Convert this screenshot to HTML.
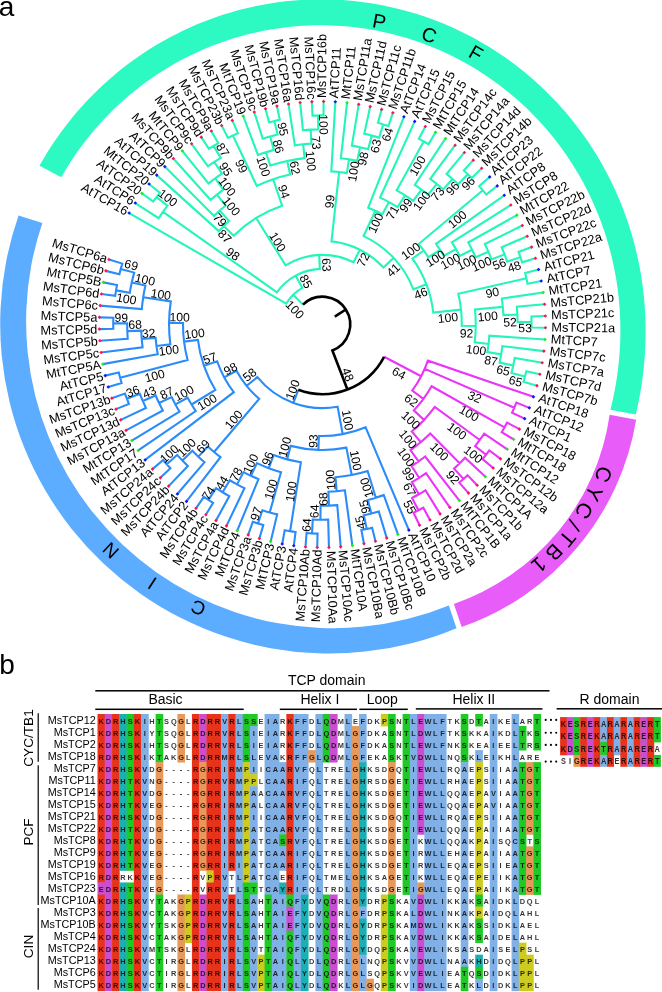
<!DOCTYPE html><html><head><meta charset="utf-8"><title>TCP phylogeny</title><style>html,body{margin:0;padding:0;background:#fff}svg{display:block}</style></head><body><svg width="662" height="992" viewBox="0 0 662 992" font-family="Liberation Sans, Arial, sans-serif">
<rect width="662" height="992" fill="#fff"/>
<path d="M39.48 165.76L42.29 160.82L45.19 155.93L48.17 151.08L51.24 146.29L54.39 141.56L57.62 136.88L60.93 132.25L64.33 127.68L67.8 123.18L71.35 118.73L74.98 114.34L78.68 110.02L82.46 105.77L86.31 101.58L90.24 97.45L94.23 93.4L98.3 89.42L102.44 85.51L106.65 81.67L110.92 77.9L115.26 74.21L119.66 70.6L124.13 67.07L128.66 63.61L133.24 60.23L137.89 56.94L142.6 53.73L147.36 50.6L152.18 47.55L157.05 44.6L161.97 41.72L166.94 38.94L171.96 36.24L177.03 33.63L182.15 31.11L187.31 28.69L192.51 26.35L197.75 24.11L203.03 21.96L208.35 19.91L213.7 17.95L219.09 16.08L224.51 14.31L229.96 12.64L235.44 11.07L240.95 9.59L246.48 8.21L252.04 6.93L257.62 5.75L263.22 4.67L268.83 3.68L274.47 2.8L280.11 2.02L285.78 1.34L291.45 0.76L297.13 0.28L302.82 -0.1L308.51 -0.37L314.21 -0.55L319.91 -0.62L325.61 -0.59L331.3 -0.46L337 -0.23L342.69 0.1L348.37 0.54L354.04 1.07L359.7 1.71L365.35 2.45L370.98 3.28L376.6 4.22L382.2 5.26L387.78 6.39L393.34 7.63L398.87 8.96L404.38 10.39L409.86 11.92L415.31 13.54L420.73 15.26L426.13 17.08L431.48 18.99L436.8 21L442.09 23.1L447.33 25.29L452.54 27.57L457.7 29.95L462.82 32.42L467.89 34.97L472.92 37.62L477.9 40.35L482.83 43.17L487.7 46.07L492.53 49.06L497.3 52.13L502.02 55.29L506.67 58.53L511.27 61.85L515.81 65.25L520.29 68.72L524.71 72.28L529.06 75.91L533.35 79.61L537.57 83.39L541.73 87.24L545.81 91.16L549.83 95.15L553.78 99.22L557.65 103.34L561.45 107.54L565.18 111.79L568.83 116.12L572.41 120.5L575.91 124.94L579.33 129.45L582.67 134.01L585.94 138.62L589.12 143.29L592.22 148.02L595.24 152.8L598.18 157.62L601.04 162.5L603.81 167.42L606.49 172.39L609.1 177.41L611.61 182.47L614.04 187.56L616.38 192.7L618.64 197.88L620.8 203.1L622.88 208.35L624.87 213.63L626.77 218.95L628.58 224.3L630.3 229.68L631.93 235.09L633.47 240.52L634.91 245.98L636.27 251.47L637.54 256.97L638.71 262.5L639.79 268.05L640.79 273.61L641.68 279.19L642.49 284.79L643.21 290.4L643.83 296.02L644.36 301.65L644.8 307.3L645.15 312.95L645.4 318.6L645.56 324.27L645.63 329.93L645.61 335.6L645.5 341.28L645.29 346.95L645 352.62L644.61 358.28L644.13 363.95L643.56 369.6L642.9 375.25L642.15 380.9L641.31 386.53L640.38 392.16L639.36 397.77L638.25 403.37L637.05 408.96L635.76 414.53L610.45 409.66L611.69 404.56L612.86 399.45L613.94 394.33L614.94 389.19L615.86 384.04L616.69 378.87L617.44 373.7L618.1 368.52L618.68 363.33L619.18 358.14L619.59 352.94L619.91 347.74L620.15 342.53L620.31 337.33L620.38 332.12L620.37 326.92L620.26 321.71L620.08 316.52L619.81 311.32L619.45 306.14L619.01 300.96L618.48 295.79L617.87 290.64L617.17 285.49L616.39 280.36L615.52 275.24L614.57 270.14L613.53 265.06L612.41 259.99L611.2 254.95L609.91 249.93L608.54 244.93L607.08 239.95L605.54 235L603.91 230.08L602.21 225.18L600.42 220.32L598.55 215.48L596.6 210.68L594.57 205.91L592.46 201.18L590.26 196.48L587.99 191.82L585.64 187.2L583.21 182.62L580.71 178.08L578.12 173.59L575.46 169.14L572.73 164.73L569.92 160.38L567.03 156.07L564.07 151.81L561.04 147.6L557.94 143.44L554.77 139.34L551.52 135.29L548.21 131.3L544.83 127.37L541.38 123.49L537.86 119.67L534.28 115.92L530.63 112.22L526.92 108.59L523.14 105.03L519.31 101.52L515.41 98.09L511.46 94.72L507.44 91.42L503.37 88.19L499.24 85.03L495.06 81.95L490.83 78.93L486.54 75.99L482.2 73.13L477.81 70.34L473.37 67.62L468.89 64.99L464.35 62.43L459.78 59.95L455.16 57.55L450.5 55.23L445.8 53L441.06 50.84L436.28 48.77L431.46 46.78L426.61 44.88L421.73 43.06L416.82 41.33L411.87 39.68L406.9 38.12L401.89 36.65L396.87 35.26L391.82 33.97L386.74 32.76L381.65 31.64L376.53 30.61L371.4 29.68L366.25 28.83L361.09 28.07L355.91 27.4L350.72 26.83L345.52 26.34L340.32 25.95L335.1 25.65L329.88 25.44L324.66 25.32L319.44 25.3L314.21 25.37L308.99 25.52L303.77 25.78L298.56 26.12L293.35 26.55L288.15 27.08L282.96 27.7L277.78 28.41L272.61 29.21L267.46 30.1L262.33 31.09L257.21 32.16L252.11 33.32L247.03 34.58L241.98 35.92L236.95 37.35L231.94 38.87L226.96 40.48L222.02 42.18L217.1 43.96L212.21 45.83L207.36 47.79L202.54 49.83L197.76 51.95L193.02 54.16L188.31 56.46L183.65 58.83L179.03 61.29L174.45 63.83L169.92 66.44L165.44 69.14L161 71.92L156.61 74.77L152.28 77.7L147.99 80.71L143.76 83.79L139.59 86.94L135.47 90.17L131.4 93.47L127.4 96.84L123.45 100.28L119.57 103.78L115.75 107.36L111.99 111L108.29 114.71L104.67 118.48L101.1 122.31L97.61 126.21L94.18 130.16L90.82 134.18L87.54 138.25L84.32 142.38L81.18 146.56L78.11 150.8L75.11 155.09L72.19 159.44L69.35 163.83L66.58 168.27L63.89 172.76L61.28 177.29Z" fill="#2dfac3"/>
<path d="M636.15 419.64A265.5 265.5 0 0 1 461.7 627.07L453.89 603.99A235.6 235.6 0 0 0 609.65 414.68Z" fill="#e85cfa"/>
<path d="M456.51 628.17A329.6 329.6 0 0 1 18.57 215.39L42.34 222.91A306.8 306.8 0 0 0 448.81 605.46Z" fill="#5cacff"/>
<text transform="translate(379.4 21.2) rotate(10.64)" font-size="20" text-anchor="middle" y="7.16">P</text>
<text transform="translate(429.2 34.8) rotate(20.24)" font-size="20" text-anchor="middle" y="7.16">C</text>
<text transform="translate(476 53) rotate(29.5)" font-size="20" text-anchor="middle" y="7.16">F</text>
<text transform="translate(198.3 607.9) rotate(203.65)" font-size="19" text-anchor="middle" y="6.8">C</text>
<text transform="translate(152.1 583.4) rotate(213.34)" font-size="19" text-anchor="middle" y="6.8">I</text>
<text transform="translate(110.6 550.6) rotate(223.13)" font-size="19" text-anchor="middle" y="6.8">N</text>
<text transform="translate(603.7 474.4) rotate(112.64)" font-size="21" text-anchor="middle" y="7.52">C</text>
<text transform="translate(594.3 493.5) rotate(117.57)" font-size="21" text-anchor="middle" y="7.52">Y</text>
<text transform="translate(584.3 510.7) rotate(122.18)" font-size="21" text-anchor="middle" y="7.52">C</text>
<text transform="translate(574.4 525.2) rotate(126.25)" font-size="21" text-anchor="middle" y="7.52">/</text>
<text transform="translate(567.5 538.8) rotate(129.7)" font-size="21" text-anchor="middle" y="7.52">T</text>
<text transform="translate(554.4 552.4) rotate(134.03)" font-size="21" text-anchor="middle" y="7.52">B</text>
<text transform="translate(539 565.1) rotate(138.61)" font-size="21" text-anchor="middle" y="7.52">1</text>
<path d="M293.21 294.65L302.96 304.62M129.13 213.05L286.23 303.64A41.75 41.75 0 0 1 293.21 294.65M295.66 275.64L302.35 287.88A41.75 41.75 0 0 0 293.21 294.65M162.99 211.84L276.91 292.35A55.7 55.7 0 0 1 295.66 275.64M135.27 203.03L158.67 218.22A195.2 195.2 0 0 1 162.99 211.84M156.5 197.14L167.56 205.64A195.2 195.2 0 0 0 162.99 211.84M141.92 193.35L153.2 201.55A209.15 209.15 0 0 1 156.5 197.14M149.07 184.04L159.91 192.82A209.15 209.15 0 0 0 156.5 197.14M319.19 254.92L319.84 268.86A55.7 55.7 0 0 0 295.66 275.64M256.18 217.95L285.63 265.35A69.65 69.65 0 0 1 319.19 254.92M223.84 225.92L233.71 235.78A125.45 125.45 0 0 1 256.18 217.95M156.7 175.11L218.87 231.15A139.4 139.4 0 0 1 223.84 225.92M219.74 210.58L229.08 220.94A139.4 139.4 0 0 0 223.84 225.92M164.8 166.59L214.07 215.96A153.35 153.35 0 0 1 219.74 210.58M216.89 194.67L225.69 205.49A153.35 153.35 0 0 0 219.74 210.58M173.33 158.52L210.61 200.03A167.3 167.3 0 0 1 216.89 194.67M215.17 178.37L223.42 189.62A167.3 167.3 0 0 0 216.89 194.67M182.27 150.9L208.55 183.47A181.25 181.25 0 0 1 215.17 178.37M214.29 161.97L222.02 173.59A181.25 181.25 0 0 0 215.17 178.37M191.6 143.77L207.96 166.37A195.2 195.2 0 0 1 214.29 161.97M213.53 145.92L220.79 157.83A195.2 195.2 0 0 0 214.29 161.97M201.29 137.13L208.87 148.85A209.15 209.15 0 0 1 213.53 145.92M211.32 131.02L218.27 143.12A209.15 209.15 0 0 0 213.53 145.92M273.15 179.28L282.11 205.7A125.45 125.45 0 0 0 256.18 217.95M232.9 135.46L256.78 185.9A153.35 153.35 0 0 1 273.15 179.28M221.66 125.44L227.96 137.89A209.15 209.15 0 0 1 232.9 135.46M232.28 120.41L237.91 133.17A209.15 209.15 0 0 0 232.9 135.46M287.23 160.94L290.16 174.58A153.35 153.35 0 0 0 273.15 179.28M265.88 152.29L270.23 165.54A167.3 167.3 0 0 1 287.23 160.94M243.14 115.95L258.01 155.07A181.25 181.25 0 0 1 265.88 152.29M270.14 136.43L273.87 149.87A181.25 181.25 0 0 0 265.88 152.29M254.23 112.07L262.75 138.64A195.2 195.2 0 0 1 270.14 136.43M274.4 120.93L277.61 134.51A195.2 195.2 0 0 0 270.14 136.43M265.5 108.78L269.06 122.27A209.15 209.15 0 0 1 274.4 120.93M276.94 106.08L279.78 119.74A209.15 209.15 0 0 0 274.4 120.93M303.14 144.28L304.62 158.15A167.3 167.3 0 0 0 287.23 160.94M288.5 103.99L294.86 145.36A181.25 181.25 0 0 1 303.14 144.28M310.62 129.66L311.46 143.58A181.25 181.25 0 0 0 303.14 144.28M300.15 102.51L302.93 130.27A195.2 195.2 0 0 1 310.62 129.66M318.03 115.4L318.32 129.34A195.2 195.2 0 0 0 310.62 129.66M311.86 101.65L312.52 115.58A209.15 209.15 0 0 1 318.03 115.4M323.61 101.4L323.53 115.35A209.15 209.15 0 0 0 318.03 115.4M359.82 249.74L353.57 262.22A69.65 69.65 0 0 0 319.19 254.92M339.09 172.06L331.5 241.4A83.6 83.6 0 0 1 359.82 249.74M335.35 101.78L331.3 171.41A153.35 153.35 0 0 1 339.09 172.06M349.07 159.34L346.84 173.11A153.35 153.35 0 0 0 339.09 172.06M347.05 102.77L340.89 158.22A167.3 167.3 0 0 1 349.07 159.34M360.09 147.21L357.19 160.86A167.3 167.3 0 0 0 349.07 159.34M358.69 104.37L351.88 145.66A181.25 181.25 0 0 1 360.09 147.21M371.74 135.64L368.21 149.14A181.25 181.25 0 0 0 360.09 147.21M370.22 106.59L364.24 133.84A195.2 195.2 0 0 1 371.74 135.64M383.21 124.39L379.16 137.73A195.2 195.2 0 0 0 371.74 135.64M381.63 109.41L377.92 122.85A209.15 209.15 0 0 1 383.21 124.39M392.87 112.82L388.46 126.06A209.15 209.15 0 0 0 383.21 124.39M393.66 257.88L383.47 267.41A83.6 83.6 0 0 0 359.82 249.74M375.39 210.79L363.61 236.08A97.55 97.55 0 0 1 393.66 257.88M403.91 116.82L368.23 207.72A125.45 125.45 0 0 1 375.39 210.79M389.02 202.05L382.35 214.3A125.45 125.45 0 0 0 375.39 210.79M414.73 121.4L380.09 197.6A139.4 139.4 0 0 1 389.02 202.05M405.13 195.38L397.6 207.13A139.4 139.4 0 0 0 389.02 202.05M423.71 141.52L396.68 190.34A153.35 153.35 0 0 1 405.13 195.38M425.29 126.54L418.85 138.92A209.15 209.15 0 0 1 423.71 141.52M435.56 132.23L428.49 144.25A209.15 209.15 0 0 0 423.71 141.52M421.5 189.71L413.24 200.95A153.35 153.35 0 0 0 405.13 195.38M445.53 138.45L414.73 184.99A167.3 167.3 0 0 1 421.5 189.71M436.84 183.95L428.03 194.77A167.3 167.3 0 0 0 421.5 189.71M455.15 145.19L430.25 178.83A181.25 181.25 0 0 1 436.84 183.95M452.49 178.97L443.19 189.37A181.25 181.25 0 0 0 436.84 183.95M464.4 152.43L446.64 173.95A195.2 195.2 0 0 1 452.49 178.97M467.84 174.19L458.14 184.22A195.2 195.2 0 0 0 452.49 178.97M473.26 160.14L463.83 170.42A209.15 209.15 0 0 1 467.84 174.19M481.7 168.31L471.74 178.07A209.15 209.15 0 0 0 467.84 174.19M426.4 284.3L413.39 289.33A97.55 97.55 0 0 0 393.66 257.88M423.68 250.48L412.42 258.71A111.5 111.5 0 0 1 426.4 284.3M482.83 190.31L418.63 244.01A125.45 125.45 0 0 1 423.68 250.48M489.7 176.91L479.24 186.14A209.15 209.15 0 0 1 482.83 190.31M497.24 185.92L486.31 194.58A209.15 209.15 0 0 0 482.83 190.31M440.08 249.78L428.3 257.25A125.45 125.45 0 0 0 423.68 250.48M504.29 195.31L436.05 243.78A139.4 139.4 0 0 1 440.08 249.78M455.94 249.12L443.79 255.97A139.4 139.4 0 0 0 440.08 249.78M510.84 205.07L451.92 242.41A153.35 153.35 0 0 1 455.94 249.12M472.09 249.79L459.61 256.02A153.35 153.35 0 0 0 455.94 249.12M516.86 215.15L468.23 242.5A167.3 167.3 0 0 1 472.09 249.79M488.37 251.67L475.6 257.27A167.3 167.3 0 0 0 472.09 249.79M522.35 225.54L484.84 244.1A181.25 181.25 0 0 1 488.37 251.67M504.57 254.38L491.55 259.39A181.25 181.25 0 0 0 488.37 251.67M527.28 236.2L501.66 247.24A195.2 195.2 0 0 1 504.57 254.38M520.4 257.13L507.2 261.62A195.2 195.2 0 0 0 504.57 254.38M531.64 247.1L518.56 251.94A209.15 209.15 0 0 1 520.4 257.13M535.43 258.22L522.11 262.37A209.15 209.15 0 0 0 520.4 257.13M461.01 309.66L433.27 312.63A111.5 111.5 0 0 0 426.4 284.3M526.39 278.32L458.36 293.72A139.4 139.4 0 0 1 461.01 309.66M538.62 269.53L525.1 272.96A209.15 209.15 0 0 1 526.39 278.32M541.21 280.98L527.53 283.7A209.15 209.15 0 0 0 526.39 278.32M475.74 325.94L461.79 325.81A139.4 139.4 0 0 0 461.01 309.66M502.79 306.84L475.02 309.56A153.35 153.35 0 0 1 475.74 325.94M543.2 292.56L501.78 298.55A181.25 181.25 0 0 1 502.79 306.84M517.34 314.45L503.41 315.17A181.25 181.25 0 0 0 502.79 306.84M544.58 304.23L516.79 306.76A195.2 195.2 0 0 1 517.34 314.45M531.53 321.99L517.59 322.15A195.2 195.2 0 0 0 517.34 314.45M545.34 315.95L531.4 316.48A209.15 209.15 0 0 1 531.53 321.99M545.48 327.69L531.53 327.49A209.15 209.15 0 0 0 531.53 321.99M488.57 343.92L474.71 342.3A153.35 153.35 0 0 0 475.74 325.94M545 339.43L489.32 335.7A167.3 167.3 0 0 1 488.57 343.92M501.17 354.4L487.41 352.09A167.3 167.3 0 0 0 488.57 343.92M543.91 351.12L502.35 346.13A181.25 181.25 0 0 1 501.17 354.4M513.24 365.53L499.6 362.6A181.25 181.25 0 0 0 501.17 354.4M542.2 362.75L514.71 357.96A195.2 195.2 0 0 1 513.24 365.53M524.98 376.5L511.47 373.03A195.2 195.2 0 0 0 513.24 365.53M539.88 374.26L526.28 371.15A209.15 209.15 0 0 1 524.98 376.5M536.96 385.64L523.54 381.82A209.15 209.15 0 0 0 524.98 376.5" fill="none" stroke="#24f5ba" stroke-width="2.1" stroke-linejoin="miter" stroke-linecap="butt"/>
<path d="M293.44 402.92L298.27 389.84M342.7 434.14L337.62 406.7A83.6 83.6 0 0 1 293.44 402.92M408.88 530.16L365.62 427.28A111.5 111.5 0 0 1 342.7 434.14M318.4 449.89L318.85 435.94A111.5 111.5 0 0 0 342.7 434.14M351.72 475.02L346.38 447.64A125.45 125.45 0 0 1 318.4 449.89M375.84 497.69L367.62 471.03A153.35 153.35 0 0 1 351.72 475.02M397.93 534.43L383.76 495.05A181.25 181.25 0 0 1 375.84 497.69M371.3 513.47L367.81 499.97A181.25 181.25 0 0 0 375.84 497.69M386.78 538.11L378.73 511.4A195.2 195.2 0 0 1 371.3 513.47M366.76 528.89L363.81 515.26A195.2 195.2 0 0 0 371.3 513.47M375.45 541.2L372.13 527.65A209.15 209.15 0 0 1 366.76 528.89M363.97 543.69L361.37 529.99A209.15 209.15 0 0 0 366.76 528.89M336.67 491.19L335.48 477.29A153.35 153.35 0 0 0 351.72 475.02M352.37 545.58L344.88 490.28A167.3 167.3 0 0 1 336.67 491.19M328.93 505.63L328.43 491.69A167.3 167.3 0 0 0 336.67 491.19M340.7 546.85L337.26 505.14A181.25 181.25 0 0 1 328.93 505.63M320.44 519.69L320.58 505.74A181.25 181.25 0 0 0 328.93 505.63M328.97 547.5L328.15 519.62A195.2 195.2 0 0 1 320.44 519.69M312.04 533.39L312.73 519.46A195.2 195.2 0 0 0 320.44 519.69M317.22 547.54L317.55 533.59A209.15 209.15 0 0 1 312.04 533.39M305.49 546.96L306.55 533.05A209.15 209.15 0 0 0 312.04 533.39M287.09 459.36L290.63 445.86A125.45 125.45 0 0 0 318.4 449.89M290.14 531.15L300.9 462.23A139.4 139.4 0 0 1 287.09 459.36M293.8 545.76L295.59 531.92A209.15 209.15 0 0 1 290.14 531.15M282.2 543.95L284.71 530.23A209.15 209.15 0 0 0 290.14 531.15M268.77 468.17L273.65 455.1A139.4 139.4 0 0 0 287.09 459.36M269.71 512.45L281 472.16A153.35 153.35 0 0 1 268.77 468.17M270.7 541.53L277.17 514.39A195.2 195.2 0 0 1 269.71 512.45M258.03 523.5L262.33 510.23A195.2 195.2 0 0 0 269.71 512.45M259.35 538.51L263.3 525.13A209.15 209.15 0 0 1 258.03 523.5M248.18 534.89L252.82 521.74A209.15 209.15 0 0 0 258.03 523.5M250.96 475.78L256.92 463.17A153.35 153.35 0 0 0 268.77 468.17M237.21 530.69L258.51 479.12A167.3 167.3 0 0 1 250.96 475.78M237.01 484.38L243.58 472.07A167.3 167.3 0 0 0 250.96 475.78M226.47 525.92L244.47 488.14A181.25 181.25 0 0 1 237.01 484.38M222.61 492.26L229.74 480.27A181.25 181.25 0 0 0 237.01 484.38M216 520.6L229.31 496.07A195.2 195.2 0 0 1 222.61 492.26M208.46 499.89L216.06 488.19A195.2 195.2 0 0 0 222.61 492.26M205.83 514.72L213.12 502.83A209.15 209.15 0 0 1 208.46 499.89M195.98 508.33L203.88 496.83A209.15 209.15 0 0 0 208.46 499.89M246.57 385.86L257.41 377.09A83.6 83.6 0 0 0 293.44 402.92M214.05 451.98L259.22 398.83A97.55 97.55 0 0 1 246.57 385.86M186.48 501.42L220.48 457.17A167.3 167.3 0 0 1 214.05 451.98M198.35 456.65L207.89 446.47A167.3 167.3 0 0 0 214.05 451.98M177.36 494.02L204.56 462.22A181.25 181.25 0 0 1 198.35 456.65M182.39 460.51L192.39 450.79A181.25 181.25 0 0 0 198.35 456.65M168.64 486.15L187.87 465.93A195.2 195.2 0 0 1 182.39 460.51M166.74 464.19L177.13 454.88A195.2 195.2 0 0 0 182.39 460.51M160.34 477.83L170.47 468.24A209.15 209.15 0 0 1 166.74 464.19M152.5 469.09L163.12 460.05A209.15 209.15 0 0 0 166.74 464.19M224.24 377.39L236.52 370.77A97.55 97.55 0 0 0 246.57 385.86M145.12 459.95L233.8 392.19A111.5 111.5 0 0 1 224.24 377.39M203.97 365.87L217.14 361.27A111.5 111.5 0 0 0 224.24 377.39M191.57 404.49L215.37 389.94A125.45 125.45 0 0 1 203.97 365.87M138.24 450.43L195.81 411.06A153.35 153.35 0 0 1 191.57 404.49M175.4 404.38L187.66 397.72A153.35 153.35 0 0 0 191.57 404.49M131.87 440.56L179.52 411.53A167.3 167.3 0 0 1 175.4 404.38M159.07 403.07L171.64 397.03A167.3 167.3 0 0 0 175.4 404.38M126.02 430.37L162.86 410.51A181.25 181.25 0 0 1 159.07 403.07M142.78 400.93L155.62 395.47A181.25 181.25 0 0 0 159.07 403.07M120.72 419.89L145.94 407.96A195.2 195.2 0 0 1 142.78 400.93M126.87 398.73L139.91 393.78A195.2 195.2 0 0 0 142.78 400.93M115.98 409.14L128.89 403.85A209.15 209.15 0 0 1 126.87 398.73M111.81 398.16L124.98 393.55A209.15 209.15 0 0 0 126.87 398.73M184.06 341.66L197.9 339.94A125.45 125.45 0 0 0 203.97 365.87M120.15 377.76L187.6 360A139.4 139.4 0 0 1 184.06 341.66M108.23 386.97L121.62 383.07A209.15 209.15 0 0 1 120.15 377.76M105.23 375.62L118.81 372.42A209.15 209.15 0 0 0 120.15 377.76M169.06 322.86L183.01 323.01A139.4 139.4 0 0 0 184.06 341.66M156.49 346.05L170.33 344.25A153.35 153.35 0 0 1 169.06 322.86M102.85 364.11L157.76 354.21A167.3 167.3 0 0 1 156.49 346.05M141.73 338.95L155.63 337.83A167.3 167.3 0 0 0 156.49 346.05M101.06 352.5L142.58 347.25A181.25 181.25 0 0 1 141.73 338.95M127.31 331.08L141.25 330.61A181.25 181.25 0 0 0 141.73 338.95M99.9 340.82L127.72 338.78A195.2 195.2 0 0 1 127.31 331.08M113.25 323.29L127.2 323.37A195.2 195.2 0 0 0 127.31 331.08M99.35 329.08L113.29 328.8A209.15 209.15 0 0 1 113.25 323.29M99.42 317.34L113.36 317.78A209.15 209.15 0 0 0 113.25 323.29M143.2 297.31L170.79 301.49A153.35 153.35 0 0 0 169.06 322.86M100.1 305.61L141.8 309.15A181.25 181.25 0 0 1 143.2 297.31M131.75 282.59L145.38 285.58A181.25 181.25 0 0 0 143.2 297.31M116.05 290.4L129.81 292.68A195.2 195.2 0 0 1 131.75 282.59M101.4 293.94L115.22 295.85A209.15 209.15 0 0 1 116.05 290.4M103.32 282.35L117.02 284.98A209.15 209.15 0 0 0 116.05 290.4M120.78 268.9L134.22 272.61A195.2 195.2 0 0 0 131.75 282.59M105.84 270.87L119.38 274.23A209.15 209.15 0 0 1 120.78 268.9M108.96 259.55L122.31 263.61A209.15 209.15 0 0 0 120.78 268.9" fill="none" stroke="#2a8cfa" stroke-width="2.1" stroke-linejoin="miter" stroke-linecap="butt"/>
<path d="M421.18 376.21L384.11 356.8M533.44 396.85L427.87 360.66A111.5 111.5 0 0 1 421.18 376.21M514.28 407.72L424.69 368.87A111.5 111.5 0 0 1 421.18 376.21M529.34 407.85L516.4 402.64A209.15 209.15 0 0 1 514.28 407.72M524.67 418.63L512.02 412.75A209.15 209.15 0 0 0 514.28 407.72M423.45 398.84L412.21 390.57A111.5 111.5 0 0 0 421.18 376.21M504.47 427.43L431.61 386.24A125.45 125.45 0 0 1 423.45 398.84M519.43 429.15L507.11 422.6A209.15 209.15 0 0 1 504.47 427.43M513.65 439.37L501.7 432.19A209.15 209.15 0 0 0 504.47 427.43M424.02 419.92L413.85 410.38A125.45 125.45 0 0 0 423.45 398.84M479.78 439.98L434.79 406.97A139.4 139.4 0 0 1 424.02 419.92M507.34 449.28L484.21 433.67A195.2 195.2 0 0 1 479.78 439.98M486.01 454.79L475.1 446.1A195.2 195.2 0 0 0 479.78 439.98M500.52 458.84L489.38 450.44A209.15 209.15 0 0 1 486.01 454.79M493.2 468.03L482.52 459.05A209.15 209.15 0 0 0 486.01 454.79M420.71 442.19L411.76 431.49A139.4 139.4 0 0 0 424.02 419.92M459.65 463.3L430.23 433.54A153.35 153.35 0 0 1 420.71 442.19M485.41 476.82L465.03 457.77A195.2 195.2 0 0 1 459.65 463.3M463.47 478.91L454.07 468.61A195.2 195.2 0 0 0 459.65 463.3M477.17 485.19L467.49 475.14A209.15 209.15 0 0 1 463.47 478.91M468.5 493.11L459.36 482.57A209.15 209.15 0 0 0 463.47 478.91M418.51 461.44L410.5 450.02A153.35 153.35 0 0 0 420.71 442.19M459.42 500.57L425.15 456.53A167.3 167.3 0 0 1 418.51 461.44M419.08 477.81L411.63 466.01A167.3 167.3 0 0 0 418.51 461.44M449.96 507.53L426.03 473.2A181.25 181.25 0 0 1 419.08 477.81M418.8 494.24L411.91 482.1A181.25 181.25 0 0 0 419.08 477.81M440.15 513.99L425.43 490.3A195.2 195.2 0 0 1 418.8 494.24M418.43 510.3L412.02 497.91A195.2 195.2 0 0 0 418.8 494.24M430.02 519.93L423.29 507.71A209.15 209.15 0 0 1 418.43 510.3M419.58 525.32L413.5 512.77A209.15 209.15 0 0 0 418.43 510.3" fill="none" stroke="#ea34fa" stroke-width="2.1" stroke-linejoin="miter" stroke-linecap="butt"/>
<path d="M302.96 304.62A27.8 27.8 0 0 1 345.79 309.48M347.42 389.5L332.39 350.44A27.8 27.8 0 0 0 345.79 309.48M384.11 356.8A69.65 69.65 0 0 1 347.42 389.5M298.27 389.84A69.65 69.65 0 0 0 347.42 389.5M345.79 309.48L334.77 316.56" fill="none" stroke="#000" stroke-width="2.6" stroke-linejoin="miter" stroke-linecap="butt"/>
<g font-size="12.8" fill="#000">
<path d="M127.33 213.05l1.8 -1.8l1.8 1.8l-1.8 1.8z" fill="#1414ff"/>
<text transform="translate(129.13 213.05) rotate(389.97)" x="-2" y="4.4" text-anchor="end">AtTCP16</text>
<path d="M133.47 203.03l1.8 -1.8l1.8 1.8l-1.8 1.8z" fill="#1414ff"/>
<text transform="translate(135.27 203.03) rotate(392.99)" x="-2" y="4.4" text-anchor="end">AtTCP6</text>
<path d="M140.12 193.35l1.8 -1.8l1.8 1.8l-1.8 1.8z" fill="#1eea1e"/>
<text transform="translate(141.92 193.35) rotate(396)" x="-2" y="4.4" text-anchor="end">AtTCP20</text>
<path d="M147.27 184.04l1.8 -1.8l1.8 1.8l-1.8 1.8z" fill="#1414ff"/>
<text transform="translate(149.07 184.04) rotate(399.02)" x="-2" y="4.4" text-anchor="end">MtTCP20</text>
<path d="M154.9 175.11l1.8 -1.8l1.8 1.8l-1.8 1.8z" fill="#1414ff"/>
<text transform="translate(156.7 175.11) rotate(402.04)" x="-2" y="4.4" text-anchor="end">AtTCP19</text>
<path d="M163 166.59l1.8 -1.8l1.8 1.8l-1.8 1.8z" fill="#1414ff"/>
<text transform="translate(164.8 166.59) rotate(405.06)" x="-2" y="4.4" text-anchor="end">AtTCP9</text>
<path d="M171.53 158.52l1.8 -1.8l1.8 1.8l-1.8 1.8z" fill="#ff1450"/>
<text transform="translate(173.33 158.52) rotate(408.07)" x="-2" y="4.4" text-anchor="end">MsTCP9b</text>
<path d="M180.47 150.9l1.8 -1.8l1.8 1.8l-1.8 1.8z" fill="#1eea1e"/>
<text transform="translate(182.27 150.9) rotate(411.09)" x="-2" y="4.4" text-anchor="end">MtTCP9</text>
<path d="M189.8 143.77l1.8 -1.8l1.8 1.8l-1.8 1.8z" fill="#ff1450"/>
<text transform="translate(191.6 143.77) rotate(414.11)" x="-2" y="4.4" text-anchor="end">MsTCP9c</text>
<path d="M199.49 137.13l1.8 -1.8l1.8 1.8l-1.8 1.8z" fill="#ff1450"/>
<text transform="translate(201.29 137.13) rotate(417.12)" x="-2" y="4.4" text-anchor="end">MsTCP9d</text>
<path d="M209.52 131.02l1.8 -1.8l1.8 1.8l-1.8 1.8z" fill="#ff1450"/>
<text transform="translate(211.32 131.02) rotate(420.14)" x="-2" y="4.4" text-anchor="end">MsTCP9a</text>
<path d="M219.86 125.44l1.8 -1.8l1.8 1.8l-1.8 1.8z" fill="#ff1450"/>
<text transform="translate(221.66 125.44) rotate(423.16)" x="-2" y="4.4" text-anchor="end">MsTCP23b</text>
<path d="M230.48 120.41l1.8 -1.8l1.8 1.8l-1.8 1.8z" fill="#ff1450"/>
<text transform="translate(232.28 120.41) rotate(426.17)" x="-2" y="4.4" text-anchor="end">MsTCP23a</text>
<path d="M241.34 115.95l1.8 -1.8l1.8 1.8l-1.8 1.8z" fill="#1eea1e"/>
<text transform="translate(243.14 115.95) rotate(429.19)" x="-2" y="4.4" text-anchor="end">MtTCP19</text>
<path d="M252.43 112.07l1.8 -1.8l1.8 1.8l-1.8 1.8z" fill="#ff1450"/>
<text transform="translate(254.23 112.07) rotate(432.21)" x="-2" y="4.4" text-anchor="end">MsTCP19c</text>
<path d="M263.7 108.78l1.8 -1.8l1.8 1.8l-1.8 1.8z" fill="#ff1450"/>
<text transform="translate(265.5 108.78) rotate(435.23)" x="-2" y="4.4" text-anchor="end">MsTCP19b</text>
<path d="M275.14 106.08l1.8 -1.8l1.8 1.8l-1.8 1.8z" fill="#ff1450"/>
<text transform="translate(276.94 106.08) rotate(438.24)" x="-2" y="4.4" text-anchor="end">MsTCP19a</text>
<path d="M286.7 103.99l1.8 -1.8l1.8 1.8l-1.8 1.8z" fill="#ff1450"/>
<text transform="translate(288.5 103.99) rotate(441.26)" x="-2" y="4.4" text-anchor="end">MsTCP16a</text>
<path d="M298.35 102.51l1.8 -1.8l1.8 1.8l-1.8 1.8z" fill="#ff1450"/>
<text transform="translate(300.15 102.51) rotate(444.28)" x="-2" y="4.4" text-anchor="end">MsTCP16d</text>
<path d="M310.06 101.65l1.8 -1.8l1.8 1.8l-1.8 1.8z" fill="#ff1450"/>
<text transform="translate(311.86 101.65) rotate(447.29)" x="-2" y="4.4" text-anchor="end">MsTCP16c</text>
<path d="M321.81 101.4l1.8 -1.8l1.8 1.8l-1.8 1.8z" fill="#ff1450"/>
<text transform="translate(323.61 101.4) rotate(270.31)" x="3.5" y="2.4">MsTCP16b</text>
<path d="M333.55 101.78l1.8 -1.8l1.8 1.8l-1.8 1.8z" fill="#1414ff"/>
<text transform="translate(335.35 101.78) rotate(273.33)" x="3.51" y="2.4">AtTCP11</text>
<path d="M345.25 102.77l1.8 -1.8l1.8 1.8l-1.8 1.8z" fill="#1eea1e"/>
<text transform="translate(347.05 102.77) rotate(276.34)" x="3.53" y="2.4">MtTCP11</text>
<path d="M356.89 104.37l1.8 -1.8l1.8 1.8l-1.8 1.8z" fill="#ff1450"/>
<text transform="translate(358.69 104.37) rotate(279.36)" x="3.56" y="2.41">MsTCP11a</text>
<path d="M368.42 106.59l1.8 -1.8l1.8 1.8l-1.8 1.8z" fill="#ff1450"/>
<text transform="translate(370.22 106.59) rotate(282.38)" x="3.61" y="2.42">MsTCP11d</text>
<path d="M379.83 109.41l1.8 -1.8l1.8 1.8l-1.8 1.8z" fill="#ff1450"/>
<text transform="translate(381.63 109.41) rotate(285.39)" x="3.66" y="2.43">MsTCP11c</text>
<path d="M391.07 112.82l1.8 -1.8l1.8 1.8l-1.8 1.8z" fill="#ff1450"/>
<text transform="translate(392.87 112.82) rotate(288.41)" x="3.73" y="2.44">MsTCP11b</text>
<path d="M402.11 116.82l1.8 -1.8l1.8 1.8l-1.8 1.8z" fill="#1414ff"/>
<text transform="translate(403.91 116.82) rotate(291.43)" x="3.81" y="2.45">AtTCP14</text>
<path d="M412.93 121.4l1.8 -1.8l1.8 1.8l-1.8 1.8z" fill="#1414ff"/>
<text transform="translate(414.73 121.4) rotate(294.45)" x="3.89" y="2.47">AtTCP15</text>
<path d="M423.49 126.54l1.8 -1.8l1.8 1.8l-1.8 1.8z" fill="#ff1450"/>
<text transform="translate(425.29 126.54) rotate(297.46)" x="3.99" y="2.49">MsTCP15</text>
<path d="M433.76 132.23l1.8 -1.8l1.8 1.8l-1.8 1.8z" fill="#1eea1e"/>
<text transform="translate(435.56 132.23) rotate(300.48)" x="4.09" y="2.51">MtTCP15</text>
<path d="M443.73 138.45l1.8 -1.8l1.8 1.8l-1.8 1.8z" fill="#1eea1e"/>
<text transform="translate(445.53 138.45) rotate(303.5)" x="4.2" y="2.53">MtTCP14</text>
<path d="M453.35 145.19l1.8 -1.8l1.8 1.8l-1.8 1.8z" fill="#ff1450"/>
<text transform="translate(455.15 145.19) rotate(306.51)" x="4.31" y="2.56">MsTCP14c</text>
<path d="M462.6 152.43l1.8 -1.8l1.8 1.8l-1.8 1.8z" fill="#ff1450"/>
<text transform="translate(464.4 152.43) rotate(309.53)" x="4.43" y="2.58">MsTCP14a</text>
<path d="M471.46 160.14l1.8 -1.8l1.8 1.8l-1.8 1.8z" fill="#ff1450"/>
<text transform="translate(473.26 160.14) rotate(312.55)" x="4.55" y="2.61">MsTCP14d</text>
<path d="M479.9 168.31l1.8 -1.8l1.8 1.8l-1.8 1.8z" fill="#ff1450"/>
<text transform="translate(481.7 168.31) rotate(315.56)" x="4.67" y="2.64">MsTCP14b</text>
<path d="M487.9 176.91l1.8 -1.8l1.8 1.8l-1.8 1.8z" fill="#1414ff"/>
<text transform="translate(489.7 176.91) rotate(318.58)" x="4.79" y="2.68">AtTCP23</text>
<path d="M495.44 185.92l1.8 -1.8l1.8 1.8l-1.8 1.8z" fill="#1414ff"/>
<text transform="translate(497.24 185.92) rotate(321.6)" x="4.91" y="2.72">AtTCP22</text>
<path d="M502.49 195.31l1.8 -1.8l1.8 1.8l-1.8 1.8z" fill="#1414ff"/>
<text transform="translate(504.29 195.31) rotate(324.62)" x="5.03" y="2.76">AtTCP8</text>
<path d="M509.04 205.07l1.8 -1.8l1.8 1.8l-1.8 1.8z" fill="#ff1450"/>
<text transform="translate(510.84 205.07) rotate(327.63)" x="5.14" y="2.8">MsTCP8</text>
<path d="M515.06 215.15l1.8 -1.8l1.8 1.8l-1.8 1.8z" fill="#1eea1e"/>
<text transform="translate(516.86 215.15) rotate(330.65)" x="5.25" y="2.85">MtTCP22</text>
<path d="M520.55 225.54l1.8 -1.8l1.8 1.8l-1.8 1.8z" fill="#ff1450"/>
<text transform="translate(522.35 225.54) rotate(333.67)" x="5.35" y="2.9">MsTCP22b</text>
<path d="M525.48 236.2l1.8 -1.8l1.8 1.8l-1.8 1.8z" fill="#ff1450"/>
<text transform="translate(527.28 236.2) rotate(336.68)" x="5.44" y="2.96">MsTCP22d</text>
<path d="M529.84 247.1l1.8 -1.8l1.8 1.8l-1.8 1.8z" fill="#ff1450"/>
<text transform="translate(531.64 247.1) rotate(339.7)" x="5.52" y="3.02">MsTCP22c</text>
<path d="M533.63 258.22l1.8 -1.8l1.8 1.8l-1.8 1.8z" fill="#ff1450"/>
<text transform="translate(535.43 258.22) rotate(342.72)" x="5.6" y="3.08">MsTCP22a</text>
<path d="M536.82 269.53l1.8 -1.8l1.8 1.8l-1.8 1.8z" fill="#1414ff"/>
<text transform="translate(538.62 269.53) rotate(345.74)" x="5.66" y="3.16">AtTCP21</text>
<path d="M539.41 280.98l1.8 -1.8l1.8 1.8l-1.8 1.8z" fill="#1414ff"/>
<text transform="translate(541.21 280.98) rotate(348.75)" x="5.71" y="3.24">AtTCP7</text>
<path d="M541.4 292.56l1.8 -1.8l1.8 1.8l-1.8 1.8z" fill="#1eea1e"/>
<text transform="translate(543.2 292.56) rotate(351.77)" x="5.75" y="3.33">MtTCP21</text>
<path d="M542.78 304.23l1.8 -1.8l1.8 1.8l-1.8 1.8z" fill="#ff1450"/>
<text transform="translate(544.58 304.23) rotate(354.79)" x="5.78" y="3.45">MsTCP21b</text>
<path d="M543.54 315.95l1.8 -1.8l1.8 1.8l-1.8 1.8z" fill="#ff1450"/>
<text transform="translate(545.34 315.95) rotate(357.8)" x="5.8" y="3.61">MsTCP21c</text>
<path d="M543.68 327.69l1.8 -1.8l1.8 1.8l-1.8 1.8z" fill="#ff1450"/>
<text transform="translate(545.48 327.69) rotate(360.82)" x="5.8" y="3.72">MsTCP21a</text>
<path d="M543.2 339.43l1.8 -1.8l1.8 1.8l-1.8 1.8z" fill="#1eea1e"/>
<text transform="translate(545 339.43) rotate(363.84)" x="5.79" y="3.51">MtTCP7</text>
<path d="M542.11 351.12l1.8 -1.8l1.8 1.8l-1.8 1.8z" fill="#ff1450"/>
<text transform="translate(543.91 351.12) rotate(366.85)" x="5.77" y="3.38">MsTCP7c</text>
<path d="M540.4 362.75l1.8 -1.8l1.8 1.8l-1.8 1.8z" fill="#ff1450"/>
<text transform="translate(542.2 362.75) rotate(369.87)" x="5.73" y="3.28">MsTCP7a</text>
<path d="M538.08 374.26l1.8 -1.8l1.8 1.8l-1.8 1.8z" fill="#ff1450"/>
<text transform="translate(539.88 374.26) rotate(372.89)" x="5.69" y="3.19">MsTCP7d</text>
<path d="M535.16 385.64l1.8 -1.8l1.8 1.8l-1.8 1.8z" fill="#ff1450"/>
<text transform="translate(536.96 385.64) rotate(375.9)" x="5.63" y="3.11">MsTCP7b</text>
<path d="M531.64 396.85l1.8 -1.8l1.8 1.8l-1.8 1.8z" fill="#1414ff"/>
<text transform="translate(533.44 396.85) rotate(378.92)" x="5.56" y="3.05">AtTCP18</text>
<path d="M527.54 407.85l1.8 -1.8l1.8 1.8l-1.8 1.8z" fill="#1414ff"/>
<text transform="translate(529.34 407.85) rotate(381.94)" x="5.48" y="2.98">AtTCP12</text>
<path d="M522.87 418.63l1.8 -1.8l1.8 1.8l-1.8 1.8z" fill="#1414ff"/>
<text transform="translate(524.67 418.63) rotate(384.96)" x="5.39" y="2.93">AtTCP1</text>
<path d="M517.63 429.15l1.8 -1.8l1.8 1.8l-1.8 1.8z" fill="#ff1450"/>
<text transform="translate(519.43 429.15) rotate(387.97)" x="5.29" y="2.87">MsTCP18</text>
<path d="M511.85 439.37l1.8 -1.8l1.8 1.8l-1.8 1.8z" fill="#1eea1e"/>
<text transform="translate(513.65 439.37) rotate(390.99)" x="5.19" y="2.82">MtTCP18</text>
<path d="M505.54 449.28l1.8 -1.8l1.8 1.8l-1.8 1.8z" fill="#1eea1e"/>
<text transform="translate(507.34 449.28) rotate(394.01)" x="5.08" y="2.78">MtTCP12</text>
<path d="M498.72 458.84l1.8 -1.8l1.8 1.8l-1.8 1.8z" fill="#ff1450"/>
<text transform="translate(500.52 458.84) rotate(397.02)" x="4.97" y="2.74">MsTCP12b</text>
<path d="M491.4 468.03l1.8 -1.8l1.8 1.8l-1.8 1.8z" fill="#ff1450"/>
<text transform="translate(493.2 468.03) rotate(400.04)" x="4.85" y="2.7">MsTCP12a</text>
<path d="M483.61 476.82l1.8 -1.8l1.8 1.8l-1.8 1.8z" fill="#1eea1e"/>
<text transform="translate(485.41 476.82) rotate(403.06)" x="4.73" y="2.66">MtTCP1A</text>
<path d="M475.37 485.19l1.8 -1.8l1.8 1.8l-1.8 1.8z" fill="#ff1450"/>
<text transform="translate(477.17 485.19) rotate(406.07)" x="4.61" y="2.63">MsTCP1b</text>
<path d="M466.7 493.11l1.8 -1.8l1.8 1.8l-1.8 1.8z" fill="#ff1450"/>
<text transform="translate(468.5 493.11) rotate(409.09)" x="4.49" y="2.6">MsTCP1a</text>
<path d="M457.62 500.57l1.8 -1.8l1.8 1.8l-1.8 1.8z" fill="#1eea1e"/>
<text transform="translate(459.42 500.57) rotate(412.11)" x="4.37" y="2.57">MtTCP1B</text>
<path d="M448.16 507.53l1.8 -1.8l1.8 1.8l-1.8 1.8z" fill="#ff1450"/>
<text transform="translate(449.96 507.53) rotate(415.13)" x="4.25" y="2.54">MsTCP2c</text>
<path d="M438.35 513.99l1.8 -1.8l1.8 1.8l-1.8 1.8z" fill="#ff1450"/>
<text transform="translate(440.15 513.99) rotate(418.14)" x="4.14" y="2.52">MsTCP2a</text>
<path d="M428.22 519.93l1.8 -1.8l1.8 1.8l-1.8 1.8z" fill="#ff1450"/>
<text transform="translate(430.02 519.93) rotate(421.16)" x="4.04" y="2.5">MsTCP2d</text>
<path d="M417.78 525.32l1.8 -1.8l1.8 1.8l-1.8 1.8z" fill="#ff1450"/>
<text transform="translate(419.58 525.32) rotate(424.18)" x="3.94" y="2.48">MsTCP2b</text>
<path d="M407.08 530.16l1.8 -1.8l1.8 1.8l-1.8 1.8z" fill="#1414ff"/>
<text transform="translate(408.88 530.16) rotate(427.19)" x="3.85" y="2.46">AtTCP10</text>
<path d="M396.13 534.43l1.8 -1.8l1.8 1.8l-1.8 1.8z" fill="#1eea1e"/>
<text transform="translate(397.93 534.43) rotate(430.21)" x="3.76" y="2.44">MtTCP10B</text>
<path d="M384.98 538.11l1.8 -1.8l1.8 1.8l-1.8 1.8z" fill="#ff1450"/>
<text transform="translate(386.78 538.11) rotate(433.23)" x="3.69" y="2.43">MsTCP10Bc</text>
<path d="M373.65 541.2l1.8 -1.8l1.8 1.8l-1.8 1.8z" fill="#ff1450"/>
<text transform="translate(375.45 541.2) rotate(436.25)" x="3.63" y="2.42">MsTCP10Bb</text>
<path d="M362.17 543.69l1.8 -1.8l1.8 1.8l-1.8 1.8z" fill="#ff1450"/>
<text transform="translate(363.97 543.69) rotate(439.26)" x="3.58" y="2.41">MsTCP10Ba</text>
<path d="M350.57 545.58l1.8 -1.8l1.8 1.8l-1.8 1.8z" fill="#1eea1e"/>
<text transform="translate(352.37 545.58) rotate(442.28)" x="3.54" y="2.41">MtTCP10A</text>
<path d="M338.9 546.85l1.8 -1.8l1.8 1.8l-1.8 1.8z" fill="#ff1450"/>
<text transform="translate(340.7 546.85) rotate(445.3)" x="3.52" y="2.4">MsTCP10Ac</text>
<path d="M327.17 547.5l1.8 -1.8l1.8 1.8l-1.8 1.8z" fill="#ff1450"/>
<text transform="translate(328.97 547.5) rotate(448.31)" x="3.5" y="2.4">MsTCP10Aa</text>
<path d="M315.42 547.54l1.8 -1.8l1.8 1.8l-1.8 1.8z" fill="#ff1450"/>
<text transform="translate(317.22 547.54) rotate(631.33)" x="-2" y="4.4" text-anchor="end">MsTCP10Ad</text>
<path d="M303.69 546.96l1.8 -1.8l1.8 1.8l-1.8 1.8z" fill="#ff1450"/>
<text transform="translate(305.49 546.96) rotate(634.35)" x="-2" y="4.4" text-anchor="end">MsTCP10Ab</text>
<path d="M292 545.76l1.8 -1.8l1.8 1.8l-1.8 1.8z" fill="#1414ff"/>
<text transform="translate(293.8 545.76) rotate(637.36)" x="-2" y="4.4" text-anchor="end">AtTCP4</text>
<path d="M280.4 543.95l1.8 -1.8l1.8 1.8l-1.8 1.8z" fill="#1414ff"/>
<text transform="translate(282.2 543.95) rotate(640.38)" x="-2" y="4.4" text-anchor="end">AtTCP3</text>
<path d="M268.9 541.53l1.8 -1.8l1.8 1.8l-1.8 1.8z" fill="#1eea1e"/>
<text transform="translate(270.7 541.53) rotate(643.4)" x="-2" y="4.4" text-anchor="end">MtTCP3</text>
<path d="M257.55 538.51l1.8 -1.8l1.8 1.8l-1.8 1.8z" fill="#ff1450"/>
<text transform="translate(259.35 538.51) rotate(646.41)" x="-2" y="4.4" text-anchor="end">MsTCP3b</text>
<path d="M246.38 534.89l1.8 -1.8l1.8 1.8l-1.8 1.8z" fill="#ff1450"/>
<text transform="translate(248.18 534.89) rotate(649.43)" x="-2" y="4.4" text-anchor="end">MsTCP3a</text>
<path d="M235.41 530.69l1.8 -1.8l1.8 1.8l-1.8 1.8z" fill="#1eea1e"/>
<text transform="translate(237.21 530.69) rotate(652.45)" x="-2" y="4.4" text-anchor="end">MtTCP4</text>
<path d="M224.67 525.92l1.8 -1.8l1.8 1.8l-1.8 1.8z" fill="#ff1450"/>
<text transform="translate(226.47 525.92) rotate(655.47)" x="-2" y="4.4" text-anchor="end">MsTCP4d</text>
<path d="M214.2 520.6l1.8 -1.8l1.8 1.8l-1.8 1.8z" fill="#ff1450"/>
<text transform="translate(216 520.6) rotate(658.48)" x="-2" y="4.4" text-anchor="end">MsTCP4a</text>
<path d="M204.03 514.72l1.8 -1.8l1.8 1.8l-1.8 1.8z" fill="#ff1450"/>
<text transform="translate(205.83 514.72) rotate(661.5)" x="-2" y="4.4" text-anchor="end">MsTCP4c</text>
<path d="M194.18 508.33l1.8 -1.8l1.8 1.8l-1.8 1.8z" fill="#ff1450"/>
<text transform="translate(195.98 508.33) rotate(664.52)" x="-2" y="4.4" text-anchor="end">MsTCP4b</text>
<path d="M184.68 501.42l1.8 -1.8l1.8 1.8l-1.8 1.8z" fill="#1414ff"/>
<text transform="translate(186.48 501.42) rotate(667.53)" x="-2" y="4.4" text-anchor="end">AtTCP2</text>
<path d="M175.56 494.02l1.8 -1.8l1.8 1.8l-1.8 1.8z" fill="#1414ff"/>
<text transform="translate(177.36 494.02) rotate(670.55)" x="-2" y="4.4" text-anchor="end">AtTCP24</text>
<path d="M166.84 486.15l1.8 -1.8l1.8 1.8l-1.8 1.8z" fill="#ff1450"/>
<text transform="translate(168.64 486.15) rotate(673.57)" x="-2" y="4.4" text-anchor="end">MsTCP24b</text>
<path d="M158.54 477.83l1.8 -1.8l1.8 1.8l-1.8 1.8z" fill="#ff1450"/>
<text transform="translate(160.34 477.83) rotate(676.59)" x="-2" y="4.4" text-anchor="end">MsTCP24c</text>
<path d="M150.7 469.09l1.8 -1.8l1.8 1.8l-1.8 1.8z" fill="#ff1450"/>
<text transform="translate(152.5 469.09) rotate(679.6)" x="-2" y="4.4" text-anchor="end">MsTCP24a</text>
<path d="M143.32 459.95l1.8 -1.8l1.8 1.8l-1.8 1.8z" fill="#1414ff"/>
<text transform="translate(145.12 459.95) rotate(682.62)" x="-2" y="4.4" text-anchor="end">AtTCP13</text>
<path d="M136.44 450.43l1.8 -1.8l1.8 1.8l-1.8 1.8z" fill="#1eea1e"/>
<text transform="translate(138.24 450.43) rotate(685.64)" x="-2" y="4.4" text-anchor="end">MtTCP17</text>
<path d="M130.07 440.56l1.8 -1.8l1.8 1.8l-1.8 1.8z" fill="#1eea1e"/>
<text transform="translate(131.87 440.56) rotate(688.65)" x="-2" y="4.4" text-anchor="end">MtTCP13</text>
<path d="M124.22 430.37l1.8 -1.8l1.8 1.8l-1.8 1.8z" fill="#ff1450"/>
<text transform="translate(126.02 430.37) rotate(691.67)" x="-2" y="4.4" text-anchor="end">MsTCP13a</text>
<path d="M118.92 419.89l1.8 -1.8l1.8 1.8l-1.8 1.8z" fill="#ff1450"/>
<text transform="translate(120.72 419.89) rotate(694.69)" x="-2" y="4.4" text-anchor="end">MsTCP13d</text>
<path d="M114.18 409.14l1.8 -1.8l1.8 1.8l-1.8 1.8z" fill="#ff1450"/>
<text transform="translate(115.98 409.14) rotate(697.7)" x="-2" y="4.4" text-anchor="end">MsTCP13c</text>
<path d="M110.01 398.16l1.8 -1.8l1.8 1.8l-1.8 1.8z" fill="#ff1450"/>
<text transform="translate(111.81 398.16) rotate(700.72)" x="-2" y="4.4" text-anchor="end">MsTCP13b</text>
<path d="M106.43 386.97l1.8 -1.8l1.8 1.8l-1.8 1.8z" fill="#1414ff"/>
<text transform="translate(108.23 386.97) rotate(703.74)" x="-2" y="4.4" text-anchor="end">AtTCP17</text>
<path d="M103.43 375.62l1.8 -1.8l1.8 1.8l-1.8 1.8z" fill="#1414ff"/>
<text transform="translate(105.23 375.62) rotate(706.75)" x="-2" y="4.4" text-anchor="end">AtTCP5</text>
<path d="M101.05 364.11l1.8 -1.8l1.8 1.8l-1.8 1.8z" fill="#1eea1e"/>
<text transform="translate(102.85 364.11) rotate(709.77)" x="-2" y="4.4" text-anchor="end">MtTCP5A</text>
<path d="M99.26 352.5l1.8 -1.8l1.8 1.8l-1.8 1.8z" fill="#ff1450"/>
<text transform="translate(101.06 352.5) rotate(712.79)" x="-2" y="4.4" text-anchor="end">MsTCP5c</text>
<path d="M98.1 340.82l1.8 -1.8l1.8 1.8l-1.8 1.8z" fill="#ff1450"/>
<text transform="translate(99.9 340.82) rotate(715.81)" x="-2" y="4.4" text-anchor="end">MsTCP5b</text>
<path d="M97.55 329.08l1.8 -1.8l1.8 1.8l-1.8 1.8z" fill="#ff1450"/>
<text transform="translate(99.35 329.08) rotate(718.82)" x="-2" y="4.4" text-anchor="end">MsTCP5d</text>
<path d="M97.62 317.34l1.8 -1.8l1.8 1.8l-1.8 1.8z" fill="#ff1450"/>
<text transform="translate(99.42 317.34) rotate(721.84)" x="-2" y="4.4" text-anchor="end">MsTCP5a</text>
<path d="M98.3 305.61l1.8 -1.8l1.8 1.8l-1.8 1.8z" fill="#ff1450"/>
<text transform="translate(100.1 305.61) rotate(724.86)" x="-2" y="4.4" text-anchor="end">MsTCP6c</text>
<path d="M99.6 293.94l1.8 -1.8l1.8 1.8l-1.8 1.8z" fill="#ff1450"/>
<text transform="translate(101.4 293.94) rotate(727.87)" x="-2" y="4.4" text-anchor="end">MsTCP6d</text>
<path d="M101.52 282.35l1.8 -1.8l1.8 1.8l-1.8 1.8z" fill="#1eea1e"/>
<text transform="translate(103.32 282.35) rotate(730.89)" x="-2" y="4.4" text-anchor="end">MtTCP5B</text>
<path d="M104.04 270.87l1.8 -1.8l1.8 1.8l-1.8 1.8z" fill="#ff1450"/>
<text transform="translate(105.84 270.87) rotate(733.91)" x="-2" y="4.4" text-anchor="end">MsTCP6b</text>
<path d="M107.16 259.55l1.8 -1.8l1.8 1.8l-1.8 1.8z" fill="#ff1450"/>
<text transform="translate(108.96 259.55) rotate(736.92)" x="-2" y="4.4" text-anchor="end">MsTCP6a</text>
</g>
<g font-size="12.2" fill="#000" text-anchor="middle">
<text transform="translate(295.1 309.5) rotate(405.64)" y="4.39">100</text>
<text transform="translate(306.2 281.4) rotate(421.31)" y="4.39">85</text>
<text transform="translate(233.1 253.9) rotate(395.25)" y="4.39">98</text>
<text transform="translate(168.1 197.7) rotate(397.51)" y="4.39">100</text>
<text transform="translate(326.7 264.8) rotate(447.36)" y="4.39">63</text>
<text transform="translate(277.8 241.7) rotate(418.14)" y="4.39">100</text>
<text transform="translate(224.9 236.3) rotate(405.01)" y="4.39">87</text>
<text transform="translate(220.1 219.8) rotate(407.98)" y="4.39">79</text>
<text transform="translate(231.4 206.2) rotate(410.9)" y="4.39">100</text>
<text transform="translate(227.4 186.5) rotate(413.73)" y="4.39">100</text>
<text transform="translate(225.8 169) rotate(416.37)" y="4.39">95</text>
<text transform="translate(222.9 149.8) rotate(418.63)" y="4.39">87</text>
<text transform="translate(284.2 191.5) rotate(431.27)" y="4.39">94</text>
<text transform="translate(241.5 166.2) rotate(424.67)" y="4.39">99</text>
<text transform="translate(295.1 167.8) rotate(437.86)" y="4.39">62</text>
<text transform="translate(263.5 166.3) rotate(431.83)" y="4.39">100</text>
<text transform="translate(278.5 146.4) rotate(434.47)" y="4.39">86</text>
<text transform="translate(283.1 129.1) rotate(436.73)" y="4.39">95</text>
<text transform="translate(311 160.8) rotate(443.9)" y="4.39">100</text>
<text transform="translate(316.3 142.8) rotate(446.54)" y="4.39">73</text>
<text transform="translate(323.7 124.4) rotate(448.8)" y="4.39">100</text>
<text transform="translate(363.2 259.6) rotate(296.59)" y="4.39">72</text>
<text transform="translate(329.6 201.6) rotate(276.25)" y="4.39">99</text>
<text transform="translate(353.3 171.4) rotate(279.17)" y="4.39">100</text>
<text transform="translate(362.9 158.7) rotate(282)" y="4.39">98</text>
<text transform="translate(375.6 146) rotate(284.64)" y="4.39">63</text>
<text transform="translate(387.2 134.4) rotate(286.9)" y="4.39">64</text>
<text transform="translate(393.1 270) rotate(316.93)" y="4.39">41</text>
<text transform="translate(375.5 223) rotate(294.99)" y="4.39">100</text>
<text transform="translate(392.4 212.5) rotate(298.55)" y="4.39">71</text>
<text transform="translate(405.8 205.1) rotate(302.65)" y="4.39">99</text>
<text transform="translate(417.4 165.7) rotate(298.97)" y="4.39">100</text>
<text transform="translate(421.6 200.6) rotate(306.33)" y="4.39">100</text>
<text transform="translate(437.5 193.9) rotate(309.15)" y="4.39">73</text>
<text transform="translate(452.5 188.2) rotate(311.79)" y="4.39">96</text>
<text transform="translate(468.2 183.4) rotate(314.06)" y="4.39">96</text>
<text transform="translate(420.7 293.1) rotate(338.86)" y="4.39">46</text>
<text transform="translate(410.7 251) rotate(323.84)" y="4.39">100</text>
<text transform="translate(457.2 219.2) rotate(320.09)" y="4.39">100</text>
<text transform="translate(435.3 258.4) rotate(327.59)" y="4.39">100</text>
<text transform="translate(450.3 261.1) rotate(330.56)" y="4.39">100</text>
<text transform="translate(466.6 262.4) rotate(333.48)" y="4.39">100</text>
<text transform="translate(481.6 263.8) rotate(336.31)" y="4.39">100</text>
<text transform="translate(499.2 263.8) rotate(338.95)" y="4.39">56</text>
<text transform="translate(514.2 266.5) rotate(341.21)" y="4.39">48</text>
<text transform="translate(448 317.6) rotate(353.89)" y="4.39">100</text>
<text transform="translate(492.4 292.4) rotate(347.24)" y="4.39">90</text>
<text transform="translate(466.6 333.2) rotate(360.54)" y="4.39">92</text>
<text transform="translate(487.7 316.2) rotate(354.41)" y="4.39">100</text>
<text transform="translate(510.1 322.1) rotate(357.05)" y="4.39">52</text>
<text transform="translate(525.1 327.8) rotate(359.31)" y="4.39">53</text>
<text transform="translate(476.1 349.7) rotate(366.67)" y="4.39">100</text>
<text transform="translate(491.1 360.6) rotate(369.49)" y="4.39">87</text>
<text transform="translate(503.3 370.1) rotate(372.13)" y="4.39">65</text>
<text transform="translate(515.6 381) rotate(374.4)" y="4.39">65</text>
<text transform="translate(348 374.5) rotate(428.95)" y="4.39">48</text>
<text transform="translate(399.1 373) rotate(387.63)" y="4.39">64</text>
<text transform="translate(474.7 396.8) rotate(383.45)" y="4.39">32</text>
<text transform="translate(411.4 400.3) rotate(396.34)" y="4.39">62</text>
<text transform="translate(469.2 413.3) rotate(389.48)" y="4.39">100</text>
<text transform="translate(411 420) rotate(403.2)" y="4.39">100</text>
<text transform="translate(457.1 431) rotate(396.27)" y="4.39">100</text>
<text transform="translate(473.4 454.3) rotate(398.53)" y="4.39">100</text>
<text transform="translate(408.2 439.1) rotate(410.13)" y="4.39">100</text>
<text transform="translate(439.4 451.6) rotate(405.32)" y="4.39">100</text>
<text transform="translate(453 477.4) rotate(407.58)" y="4.39">92</text>
<text transform="translate(406.3 457) rotate(414.94)" y="4.39">100</text>
<text transform="translate(408.5 474) rotate(417.77)" y="4.39">99</text>
<text transform="translate(409.6 489.5) rotate(420.41)" y="4.39">67</text>
<text transform="translate(409.8 507) rotate(422.67)" y="4.39">55</text>
<text transform="translate(292.5 389.7) rotate(650.27)" y="4.39">100</text>
<text transform="translate(347.8 420) rotate(439.51)" y="4.39">100</text>
<text transform="translate(313.1 441) rotate(631.82)" y="4.39">93</text>
<text transform="translate(356 460.3) rotate(438.98)" y="4.39">100</text>
<text transform="translate(366.6 487.8) rotate(612.85)" y="4.39">100</text>
<text transform="translate(364.5 506.8) rotate(615.49)" y="4.39">95</text>
<text transform="translate(360.3 522.6) rotate(617.75)" y="4.39">45</text>
<text transform="translate(330.3 480.1) rotate(625.11)" y="4.39">100</text>
<text transform="translate(323 499.1) rotate(627.94)" y="4.39">68</text>
<text transform="translate(314.3 511.3) rotate(630.58)" y="4.39">64</text>
<text transform="translate(306.5 525) rotate(632.84)" y="4.39">64</text>
<text transform="translate(284.6 447) rotate(644.67)" y="4.39">100</text>
<text transform="translate(290.9 491.4) rotate(638.87)" y="4.39">100</text>
<text transform="translate(267.5 458.4) rotate(650.47)" y="4.39">96</text>
<text transform="translate(270.8 489.3) rotate(645.66)" y="4.39">100</text>
<text transform="translate(256 513.6) rotate(647.92)" y="4.39">97</text>
<text transform="translate(250.6 463.6) rotate(655.28)" y="4.39">100</text>
<text transform="translate(236 474.2) rotate(658.11)" y="4.39">78</text>
<text transform="translate(221.8 482.7) rotate(660.75)" y="4.39">44</text>
<text transform="translate(208.3 493) rotate(663.01)" y="4.39">74</text>
<text transform="translate(249.4 374.5) rotate(681.02)" y="4.39">58</text>
<text transform="translate(233.5 419.4) rotate(670.36)" y="4.39">100</text>
<text transform="translate(203 446.2) rotate(673.19)" y="4.39">69</text>
<text transform="translate(186.5 447.5) rotate(675.83)" y="4.39">100</text>
<text transform="translate(169.1 453.6) rotate(678.09)" y="4.39">100</text>
<text transform="translate(230.4 368.7) rotate(691.68)" y="4.39">98</text>
<text transform="translate(209.7 358) rotate(700.74)" y="4.39">57</text>
<text transform="translate(207 402) rotate(688.56)" y="4.39">100</text>
<text transform="translate(183.9 392.9) rotate(691.48)" y="4.39">100</text>
<text transform="translate(166.6 392.9) rotate(694.31)" y="4.39">87</text>
<text transform="translate(149.3 392) rotate(696.95)" y="4.39">43</text>
<text transform="translate(132.7 391.2) rotate(699.21)" y="4.39">36</text>
<text transform="translate(194.5 333.5) rotate(712.93)" y="4.39">100</text>
<text transform="translate(154.7 375.6) rotate(705.25)" y="4.39">100</text>
<text transform="translate(179.6 317) rotate(720.61)" y="4.39">100</text>
<text transform="translate(168.8 350) rotate(712.6)" y="4.39">100</text>
<text transform="translate(148.7 333) rotate(715.43)" y="4.39">32</text>
<text transform="translate(135.1 324.3) rotate(718.07)" y="4.39">68</text>
<text transform="translate(121.4 317.5) rotate(720.33)" y="4.39">99</text>
<text transform="translate(160.9 294.2) rotate(728.63)" y="4.39">100</text>
<text transform="translate(145.1 279.5) rotate(732.4)" y="4.39">100</text>
<text transform="translate(126.4 298.7) rotate(729.38)" y="4.39">100</text>
<text transform="translate(131.3 264.7) rotate(735.42)" y="4.39">69</text>
</g>
<text x="-1.2" y="15.9" font-size="28">a</text>
<g>
<rect x="97.5" y="714" width="7.66" height="168.86" fill="#e8331c"/>
<rect x="97.5" y="882.46" width="7.66" height="12.43" fill="#c94fd0"/>
<rect x="97.5" y="894.5" width="7.66" height="96.66" fill="#e8331c"/>
<rect x="104.76" y="714" width="7.66" height="277.16" fill="#c94fd0"/>
<rect x="112.03" y="714" width="7.66" height="277.16" fill="#e8331c"/>
<rect x="119.29" y="714" width="7.66" height="156.83" fill="#1aafb4"/>
<rect x="119.29" y="882.46" width="7.66" height="108.7" fill="#1aafb4"/>
<rect x="126.56" y="714" width="7.66" height="156.83" fill="#1fc926"/>
<rect x="126.56" y="882.46" width="7.66" height="108.7" fill="#1fc926"/>
<rect x="133.82" y="714" width="7.66" height="277.16" fill="#e8331c"/>
<rect x="141.08" y="714" width="7.66" height="277.16" fill="#80b0e6"/>
<rect x="155.61" y="714" width="7.66" height="48.53" fill="#1fc926"/>
<rect x="155.61" y="762.13" width="7.66" height="132.76" fill="#e6995a"/>
<rect x="155.61" y="894.5" width="7.66" height="96.66" fill="#1fc926"/>
<rect x="177.4" y="714" width="7.66" height="48.53" fill="#e6995a"/>
<rect x="177.4" y="894.5" width="7.66" height="96.66" fill="#e6995a"/>
<rect x="184.67" y="894.5" width="7.66" height="48.53" fill="#cccb1e"/>
<rect x="191.93" y="714" width="7.66" height="277.16" fill="#e8331c"/>
<rect x="199.2" y="714" width="7.66" height="48.53" fill="#c94fd0"/>
<rect x="199.2" y="762.13" width="7.66" height="108.7" fill="#e6995a"/>
<rect x="199.2" y="894.5" width="7.66" height="96.66" fill="#c94fd0"/>
<rect x="206.46" y="714" width="7.66" height="156.83" fill="#e8331c"/>
<rect x="206.46" y="870.43" width="7.66" height="12.43" fill="#cccb1e"/>
<rect x="206.46" y="882.46" width="7.66" height="108.7" fill="#e8331c"/>
<rect x="213.72" y="714" width="7.66" height="277.16" fill="#e8331c"/>
<rect x="220.99" y="714" width="7.66" height="277.16" fill="#80b0e6"/>
<rect x="228.25" y="714" width="7.66" height="156.83" fill="#e8331c"/>
<rect x="228.25" y="894.5" width="7.66" height="96.66" fill="#e8331c"/>
<rect x="235.52" y="714" width="7.66" height="277.16" fill="#80b0e6"/>
<rect x="242.78" y="714" width="7.66" height="48.53" fill="#1fc926"/>
<rect x="242.78" y="762.13" width="7.66" height="120.73" fill="#cccb1e"/>
<rect x="242.78" y="882.46" width="7.66" height="108.7" fill="#1fc926"/>
<rect x="250.04" y="714" width="7.66" height="12.43" fill="#1fc926"/>
<rect x="250.04" y="726.03" width="7.66" height="48.53" fill="#80b0e6"/>
<rect x="250.04" y="774.16" width="7.66" height="12.43" fill="#cccb1e"/>
<rect x="250.04" y="786.2" width="7.66" height="96.66" fill="#80b0e6"/>
<rect x="250.04" y="882.46" width="7.66" height="12.43" fill="#1fc926"/>
<rect x="250.04" y="894.5" width="7.66" height="96.66" fill="#80b0e6"/>
<rect x="257.31" y="954.66" width="7.66" height="36.5" fill="#cccb1e"/>
<rect x="264.57" y="714" width="7.66" height="180.9" fill="#80b0e6"/>
<rect x="264.57" y="894.5" width="7.66" height="96.66" fill="#1fc926"/>
<rect x="271.84" y="714" width="7.66" height="277.16" fill="#80b0e6"/>
<rect x="279.1" y="762.13" width="7.66" height="72.6" fill="#80b0e6"/>
<rect x="279.1" y="834.33" width="7.66" height="12.43" fill="#1fc926"/>
<rect x="279.1" y="846.36" width="7.66" height="24.47" fill="#80b0e6"/>
<rect x="279.1" y="882.46" width="7.66" height="12.43" fill="#1aafb4"/>
<rect x="279.1" y="894.5" width="7.66" height="96.66" fill="#80b0e6"/>
<rect x="286.36" y="714" width="7.66" height="180.9" fill="#e8331c"/>
<rect x="286.36" y="894.5" width="7.66" height="12.43" fill="#1fc926"/>
<rect x="286.36" y="906.53" width="7.66" height="24.47" fill="#c94fd0"/>
<rect x="286.36" y="930.59" width="7.66" height="60.56" fill="#1fc926"/>
<rect x="293.63" y="714" width="7.66" height="277.16" fill="#80b0e6"/>
<rect x="300.89" y="714" width="7.66" height="180.9" fill="#80b0e6"/>
<rect x="300.89" y="894.5" width="7.66" height="96.66" fill="#1aafb4"/>
<rect x="308.16" y="750.1" width="7.66" height="12.43" fill="#e6995a"/>
<rect x="315.42" y="714" width="7.66" height="277.16" fill="#80b0e6"/>
<rect x="322.68" y="714" width="7.66" height="48.53" fill="#1fc926"/>
<rect x="322.68" y="894.5" width="7.66" height="96.66" fill="#1fc926"/>
<rect x="329.95" y="714" width="7.66" height="48.53" fill="#c94fd0"/>
<rect x="329.95" y="894.5" width="7.66" height="96.66" fill="#c94fd0"/>
<rect x="344.48" y="714" width="7.66" height="277.16" fill="#80b0e6"/>
<rect x="351.74" y="726.03" width="7.66" height="265.13" fill="#e6995a"/>
<rect x="359" y="714" width="7.66" height="48.53" fill="#80b0e6"/>
<rect x="359" y="762.13" width="7.66" height="144.8" fill="#1aafb4"/>
<rect x="359" y="906.53" width="7.66" height="12.43" fill="#80b0e6"/>
<rect x="359" y="918.56" width="7.66" height="36.5" fill="#1aafb4"/>
<rect x="359" y="954.66" width="7.66" height="36.5" fill="#80b0e6"/>
<rect x="366.27" y="978.73" width="7.66" height="12.43" fill="#e6995a"/>
<rect x="380.8" y="714" width="7.66" height="12.43" fill="#cccb1e"/>
<rect x="380.8" y="894.5" width="7.66" height="96.66" fill="#cccb1e"/>
<rect x="388.06" y="714" width="7.66" height="48.53" fill="#1fc926"/>
<rect x="388.06" y="762.13" width="7.66" height="132.76" fill="#e6995a"/>
<rect x="388.06" y="894.5" width="7.66" height="96.66" fill="#1fc926"/>
<rect x="402.59" y="714" width="7.66" height="180.9" fill="#1fc926"/>
<rect x="409.85" y="714" width="7.66" height="277.16" fill="#80b0e6"/>
<rect x="417.12" y="714" width="7.66" height="120.73" fill="#c94fd0"/>
<rect x="417.12" y="882.46" width="7.66" height="12.43" fill="#e6995a"/>
<rect x="417.12" y="894.5" width="7.66" height="96.66" fill="#c94fd0"/>
<rect x="424.38" y="714" width="7.66" height="277.16" fill="#80b0e6"/>
<rect x="431.64" y="714" width="7.66" height="277.16" fill="#80b0e6"/>
<rect x="438.91" y="714" width="7.66" height="277.16" fill="#80b0e6"/>
<rect x="460.7" y="714" width="7.66" height="48.53" fill="#1fc926"/>
<rect x="460.7" y="762.13" width="7.66" height="204.96" fill="#80b0e6"/>
<rect x="460.7" y="966.69" width="7.66" height="24.47" fill="#1fc926"/>
<rect x="475.23" y="714" width="7.66" height="12.43" fill="#1fc926"/>
<rect x="475.23" y="750.1" width="7.66" height="12.43" fill="#80b0e6"/>
<rect x="475.23" y="762.13" width="7.66" height="132.76" fill="#cccb1e"/>
<rect x="475.23" y="894.5" width="7.66" height="12.43" fill="#1fc926"/>
<rect x="475.23" y="906.53" width="7.66" height="12.43" fill="#cccb1e"/>
<rect x="475.23" y="918.56" width="7.66" height="24.47" fill="#1fc926"/>
<rect x="475.23" y="954.66" width="7.66" height="12.43" fill="#1aafb4"/>
<rect x="475.23" y="966.69" width="7.66" height="12.43" fill="#1fc926"/>
<rect x="475.23" y="978.73" width="7.66" height="12.43" fill="#80b0e6"/>
<rect x="489.76" y="714" width="7.66" height="277.16" fill="#80b0e6"/>
<rect x="511.55" y="714" width="7.66" height="277.16" fill="#80b0e6"/>
<rect x="518.81" y="726.03" width="7.66" height="24.47" fill="#1fc926"/>
<rect x="518.81" y="762.13" width="7.66" height="132.76" fill="#1fc926"/>
<rect x="518.81" y="942.63" width="7.66" height="48.53" fill="#cccb1e"/>
<rect x="526.08" y="762.13" width="7.66" height="72.6" fill="#e6995a"/>
<rect x="526.08" y="846.36" width="7.66" height="48.53" fill="#e6995a"/>
<rect x="526.08" y="954.66" width="7.66" height="36.5" fill="#cccb1e"/>
<rect x="533.34" y="714" width="7.66" height="36.5" fill="#1fc926"/>
<rect x="533.34" y="762.13" width="7.66" height="132.76" fill="#1fc926"/>
<rect x="560.1" y="717.1" width="7.09" height="12.9" fill="#e8331c"/>
<rect x="560.1" y="729.6" width="7.09" height="12.8" fill="#e8331c"/>
<rect x="560.1" y="742" width="7.09" height="13.3" fill="#e8331c"/>
<rect x="566.79" y="717.1" width="7.09" height="12.9" fill="#c94fd0"/>
<rect x="566.79" y="729.6" width="7.09" height="12.8" fill="#c94fd0"/>
<rect x="566.79" y="742" width="7.09" height="13.3" fill="#c94fd0"/>
<rect x="573.49" y="717.1" width="7.09" height="12.9" fill="#1fc926"/>
<rect x="573.49" y="729.6" width="7.09" height="12.8" fill="#1fc926"/>
<rect x="573.49" y="742" width="7.09" height="13.3" fill="#1fc926"/>
<rect x="573.49" y="754.9" width="7.09" height="11.9" fill="#e6995a"/>
<rect x="580.18" y="717.1" width="7.09" height="12.9" fill="#e8331c"/>
<rect x="580.18" y="729.6" width="7.09" height="12.8" fill="#e8331c"/>
<rect x="580.18" y="742" width="7.09" height="13.3" fill="#e8331c"/>
<rect x="580.18" y="754.9" width="7.09" height="11.9" fill="#e8331c"/>
<rect x="586.87" y="717.1" width="7.09" height="12.9" fill="#c94fd0"/>
<rect x="586.87" y="729.6" width="7.09" height="12.8" fill="#c94fd0"/>
<rect x="586.87" y="742" width="7.09" height="13.3" fill="#c94fd0"/>
<rect x="586.87" y="754.9" width="7.09" height="11.9" fill="#c94fd0"/>
<rect x="593.57" y="717.1" width="7.09" height="12.9" fill="#e8331c"/>
<rect x="593.57" y="729.6" width="7.09" height="12.8" fill="#e8331c"/>
<rect x="593.57" y="742" width="7.09" height="13.3" fill="#e8331c"/>
<rect x="593.57" y="754.9" width="7.09" height="11.9" fill="#e8331c"/>
<rect x="600.26" y="717.1" width="7.09" height="12.9" fill="#80b0e6"/>
<rect x="600.26" y="729.6" width="7.09" height="12.8" fill="#80b0e6"/>
<rect x="600.26" y="742" width="7.09" height="13.3" fill="#1fc926"/>
<rect x="600.26" y="754.9" width="7.09" height="11.9" fill="#80b0e6"/>
<rect x="606.95" y="717.1" width="7.09" height="12.9" fill="#e8331c"/>
<rect x="606.95" y="729.6" width="7.09" height="12.8" fill="#e8331c"/>
<rect x="606.95" y="742" width="7.09" height="13.3" fill="#e8331c"/>
<rect x="606.95" y="754.9" width="7.09" height="11.9" fill="#e8331c"/>
<rect x="613.64" y="717.1" width="7.09" height="12.9" fill="#80b0e6"/>
<rect x="613.64" y="729.6" width="7.09" height="12.8" fill="#80b0e6"/>
<rect x="613.64" y="742" width="7.09" height="13.3" fill="#80b0e6"/>
<rect x="620.34" y="717.1" width="7.09" height="12.9" fill="#e8331c"/>
<rect x="620.34" y="729.6" width="7.09" height="12.8" fill="#e8331c"/>
<rect x="620.34" y="742" width="7.09" height="13.3" fill="#e8331c"/>
<rect x="620.34" y="754.9" width="7.09" height="11.9" fill="#e8331c"/>
<rect x="627.03" y="717.1" width="7.09" height="12.9" fill="#80b0e6"/>
<rect x="627.03" y="729.6" width="7.09" height="12.8" fill="#80b0e6"/>
<rect x="627.03" y="742" width="7.09" height="13.3" fill="#80b0e6"/>
<rect x="627.03" y="754.9" width="7.09" height="11.9" fill="#80b0e6"/>
<rect x="633.72" y="717.1" width="7.09" height="12.9" fill="#e8331c"/>
<rect x="633.72" y="729.6" width="7.09" height="12.8" fill="#e8331c"/>
<rect x="633.72" y="742" width="7.09" height="13.3" fill="#e8331c"/>
<rect x="633.72" y="754.9" width="7.09" height="11.9" fill="#e8331c"/>
<rect x="640.42" y="717.1" width="7.09" height="12.9" fill="#c94fd0"/>
<rect x="640.42" y="729.6" width="7.09" height="12.8" fill="#c94fd0"/>
<rect x="640.42" y="742" width="7.09" height="13.3" fill="#c94fd0"/>
<rect x="640.42" y="754.9" width="7.09" height="11.9" fill="#c94fd0"/>
<rect x="647.11" y="717.1" width="7.09" height="12.9" fill="#e8331c"/>
<rect x="647.11" y="729.6" width="7.09" height="12.8" fill="#e8331c"/>
<rect x="647.11" y="742" width="7.09" height="13.3" fill="#e8331c"/>
<rect x="647.11" y="754.9" width="7.09" height="11.9" fill="#e8331c"/>
<rect x="653.8" y="717.1" width="7.09" height="12.9" fill="#1fc926"/>
<rect x="653.8" y="729.6" width="7.09" height="12.8" fill="#1fc926"/>
<rect x="653.8" y="754.9" width="7.09" height="11.9" fill="#1fc926"/>
</g>
<g font-size="7.4" font-weight="bold" fill="#000" fill-opacity="0.8" text-anchor="middle">
<text x="101.13 108.4 115.66 122.92 130.19 137.45 144.72 151.98 159.24 166.51 173.77 181.04 188.3 195.56 202.83 210.09 217.36 224.62 231.88 239.15 246.41 253.68 260.94 268.2 275.47 282.73 290 297.26 304.52 311.79 319.05 326.32 333.58 340.84 348.11 355.37 362.64 369.9 377.16 384.43 391.69 398.96 406.22 413.48 420.75 428.01 435.28 442.54 449.8 457.07 464.33 471.6 478.86 486.12 493.39 500.65 507.92 515.18 522.44 529.71 536.97" y="723.6">KDRHSKIHTSQGLRDRRVRLSSEIARKFFDLQDMLEFDKPSNTLEWLFTKSDTAIKELART</text>
<text x="101.13 108.4 115.66 122.92 130.19 137.45 144.72 151.98 159.24 166.51 173.77 181.04 188.3 195.56 202.83 210.09 217.36 224.62 231.88 239.15 246.41 253.68 260.94 268.2 275.47 282.73 290 297.26 304.52 311.79 319.05 326.32 333.58 340.84 348.11 355.37 362.64 369.9 377.16 384.43 391.69 398.96 406.22 413.48 420.75 428.01 435.28 442.54 449.8 457.07 464.33 471.6 478.86 486.12 493.39 500.65 507.92 515.18 522.44 529.71 536.97" y="735.63">KDRHSKIYTSQGLRDRRVRLSIEIARKFFDLQDMLGFDKASNTLDWLFTKSKKAIKDLTKS</text>
<text x="101.13 108.4 115.66 122.92 130.19 137.45 144.72 151.98 159.24 166.51 173.77 181.04 188.3 195.56 202.83 210.09 217.36 224.62 231.88 239.15 246.41 253.68 260.94 268.2 275.47 282.73 290 297.26 304.52 311.79 319.05 326.32 333.58 340.84 348.11 355.37 362.64 369.9 377.16 384.43 391.69 398.96 406.22 413.48 420.75 428.01 435.28 442.54 449.8 457.07 464.33 471.6 478.86 486.12 493.39 500.65 507.92 515.18 522.44 529.71 536.97" y="747.67">KDRHSKIHTSQGLRDRRVRLSIEIARKFFDLQDMLGFDKASNTLEWLFNKSKEAIEELTRS</text>
<text x="101.13 108.4 115.66 122.92 130.19 137.45 144.72 151.98 159.24 166.51 173.77 181.04 188.3 195.56 202.83 210.09 217.36 224.62 231.88 239.15 246.41 253.68 260.94 268.2 275.47 282.73 290 297.26 304.52 311.79 319.05 326.32 333.58 340.84 348.11 355.37 362.64 369.9 377.16 384.43 391.69 398.96 406.22 413.48 420.75 428.01 435.28 442.54 449.8 457.07 464.33 471.6 478.86 486.12 493.39 500.65 507.92 515.18 522.44 529.71 536.97" y="759.7">RDRHSKIKTAKGLRDRRMRLSLEVAKRFFGLQDMLGFEKASKTVDWLLNQSKLEIKHLARE</text>
<text x="101.13 108.4 115.66 122.92 130.19 137.45 144.72 151.98 159.24 166.51 173.77 181.04 188.3 195.56 202.83 210.09 217.36 224.62 231.88 239.15 246.41 253.68 260.94 268.2 275.47 282.73 290 297.26 304.52 311.79 319.05 326.32 333.58 340.84 348.11 355.37 362.64 369.9 377.16 384.43 391.69 398.96 406.22 413.48 420.75 428.01 435.28 442.54 449.8 457.07 464.33 471.6 478.86 486.12 493.39 500.65 507.92 515.18 522.44 529.71 536.97" y="771.73">KDRHSKVDG----RGRRIRMPIICAARVFQLTRELGHKSDGQTIEWLLRQAEPSIIAATGT</text>
<text x="101.13 108.4 115.66 122.92 130.19 137.45 144.72 151.98 159.24 166.51 173.77 181.04 188.3 195.56 202.83 210.09 217.36 224.62 231.88 239.15 246.41 253.68 260.94 268.2 275.47 282.73 290 297.26 304.52 311.79 319.05 326.32 333.58 340.84 348.11 355.37 362.64 369.9 377.16 384.43 391.69 398.96 406.22 413.48 420.75 428.01 435.28 442.54 449.8 457.07 464.33 471.6 478.86 486.12 493.39 500.65 507.92 515.18 522.44 529.71 536.97" y="783.76">KDRHTKVNG----RGRRVRMPPLCAARIFQLTRELGHRSDGETIEWLLRHAEPSIIAATGT</text>
<text x="101.13 108.4 115.66 122.92 130.19 137.45 144.72 151.98 159.24 166.51 173.77 181.04 188.3 195.56 202.83 210.09 217.36 224.62 231.88 239.15 246.41 253.68 260.94 268.2 275.47 282.73 290 297.26 304.52 311.79 319.05 326.32 333.58 340.84 348.11 355.37 362.64 369.9 377.16 384.43 391.69 398.96 406.22 413.48 420.75 428.01 435.28 442.54 449.8 457.07 464.33 471.6 478.86 486.12 493.39 500.65 507.92 515.18 522.44 529.71 536.97" y="795.8">KDRHTKVDG----RGRRIRMPAACAARVFQLTRELGHKSDGETIEWLLQQAEPAVIAATGT</text>
<text x="101.13 108.4 115.66 122.92 130.19 137.45 144.72 151.98 159.24 166.51 173.77 181.04 188.3 195.56 202.83 210.09 217.36 224.62 231.88 239.15 246.41 253.68 260.94 268.2 275.47 282.73 290 297.26 304.52 311.79 319.05 326.32 333.58 340.84 348.11 355.37 362.64 369.9 377.16 384.43 391.69 398.96 406.22 413.48 420.75 428.01 435.28 442.54 449.8 457.07 464.33 471.6 478.86 486.12 493.39 500.65 507.92 515.18 522.44 529.71 536.97" y="807.83">KDRHTKVEG----RGRRIRMPALCAARVFQLTRELGHKSDGETIEWLLQQAEPAVIAATGT</text>
<text x="101.13 108.4 115.66 122.92 130.19 137.45 144.72 151.98 159.24 166.51 173.77 181.04 188.3 195.56 202.83 210.09 217.36 224.62 231.88 239.15 246.41 253.68 260.94 268.2 275.47 282.73 290 297.26 304.52 311.79 319.05 326.32 333.58 340.84 348.11 355.37 362.64 369.9 377.16 384.43 391.69 398.96 406.22 413.48 420.75 428.01 435.28 442.54 449.8 457.07 464.33 471.6 478.86 486.12 493.39 500.65 507.92 515.18 522.44 529.71 536.97" y="819.86">KDRHSKVDG----RGRRIRMPIICAARVFQLTRELGHKSDGQTIEWLLRQAEPSIIAATGT</text>
<text x="101.13 108.4 115.66 122.92 130.19 137.45 144.72 151.98 159.24 166.51 173.77 181.04 188.3 195.56 202.83 210.09 217.36 224.62 231.88 239.15 246.41 253.68 260.94 268.2 275.47 282.73 290 297.26 304.52 311.79 319.05 326.32 333.58 340.84 348.11 355.37 362.64 369.9 377.16 384.43 391.69 398.96 406.22 413.48 420.75 428.01 435.28 442.54 449.8 457.07 464.33 471.6 478.86 486.12 493.39 500.65 507.92 515.18 522.44 529.71 536.97" y="831.9">KDRHTKVDG----RGRRIRMPATCAARVFQLTRELGHKSDGETIEWLLQQAEPAIIAATGT</text>
<text x="101.13 108.4 115.66 122.92 130.19 137.45 144.72 151.98 159.24 166.51 173.77 181.04 188.3 195.56 202.83 210.09 217.36 224.62 231.88 239.15 246.41 253.68 260.94 268.2 275.47 282.73 290 297.26 304.52 311.79 319.05 326.32 333.58 340.84 348.11 355.37 362.64 369.9 377.16 384.43 391.69 398.96 406.22 413.48 420.75 428.01 435.28 442.54 449.8 457.07 464.33 471.6 478.86 486.12 493.39 500.65 507.92 515.18 522.44 529.71 536.97" y="843.93">KDRHTKVDG----RGRRIRMPATCASRVFQLTRELGHKSDGETIKWLLQQAKPAISQCSTS</text>
<text x="101.13 108.4 115.66 122.92 130.19 137.45 144.72 151.98 159.24 166.51 173.77 181.04 188.3 195.56 202.83 210.09 217.36 224.62 231.88 239.15 246.41 253.68 260.94 268.2 275.47 282.73 290 297.26 304.52 311.79 319.05 326.32 333.58 340.84 348.11 355.37 362.64 369.9 377.16 384.43 391.69 398.96 406.22 413.48 420.75 428.01 435.28 442.54 449.8 457.07 464.33 471.6 478.86 486.12 493.39 500.65 507.92 515.18 522.44 529.71 536.97" y="855.96">KDRHTKVEG----RGRRIRMPATCAARIFQLTRELGHKSDGETIRWLLEHAEPAIIAATGT</text>
<text x="101.13 108.4 115.66 122.92 130.19 137.45 144.72 151.98 159.24 166.51 173.77 181.04 188.3 195.56 202.83 210.09 217.36 224.62 231.88 239.15 246.41 253.68 260.94 268.2 275.47 282.73 290 297.26 304.52 311.79 319.05 326.32 333.58 340.84 348.11 355.37 362.64 369.9 377.16 384.43 391.69 398.96 406.22 413.48 420.75 428.01 435.28 442.54 449.8 457.07 464.33 471.6 478.86 486.12 493.39 500.65 507.92 515.18 522.44 529.71 536.97" y="868">KDRHTKVEG----RGRRIRIPATCAARIFQLTRELGHKSDGETIRWLLEQAEPSIIEATGT</text>
<text x="101.13 108.4 115.66 122.92 130.19 137.45 144.72 151.98 159.24 166.51 173.77 181.04 188.3 195.56 202.83 210.09 217.36 224.62 231.88 239.15 246.41 253.68 260.94 268.2 275.47 282.73 290 297.26 304.52 311.79 319.05 326.32 333.58 340.84 348.11 355.37 362.64 369.9 377.16 384.43 391.69 398.96 406.22 413.48 420.75 428.01 435.28 442.54 449.8 457.07 464.33 471.6 478.86 486.12 493.39 500.65 507.92 515.18 522.44 529.71 536.97" y="880.03">RDRRKKVEG----RVPRVTLPATCAERIFQLTMELGHKSAGETIKWLLEQAEPEIIKATGT</text>
<text x="101.13 108.4 115.66 122.92 130.19 137.45 144.72 151.98 159.24 166.51 173.77 181.04 188.3 195.56 202.83 210.09 217.36 224.62 231.88 239.15 246.41 253.68 260.94 268.2 275.47 282.73 290 297.26 304.52 311.79 319.05 326.32 333.58 340.84 348.11 355.37 362.64 369.9 377.16 384.43 391.69 398.96 406.22 413.48 420.75 428.01 435.28 442.54 449.8 457.07 464.33 471.6 478.86 486.12 493.39 500.65 507.92 515.18 522.44 529.71 536.97" y="892.06">EDRHTKVEG----RVRRVTLSTTCAYRIFQLTRDLGHKSDGETIGWLLEQAEPAIIKATGT</text>
<text x="101.13 108.4 115.66 122.92 130.19 137.45 144.72 151.98 159.24 166.51 173.77 181.04 188.3 195.56 202.83 210.09 217.36 224.62 231.88 239.15 246.41 253.68 260.94 268.2 275.47 282.73 290 297.26 304.52 311.79 319.05 326.32 333.58 340.84 348.11 355.37 362.64 369.9 377.16 384.43 391.69 398.96 406.22 413.48 420.75 428.01 435.28 442.54 449.8 457.07 464.33 471.6 478.86 486.12 493.39 500.65 507.92 515.18 522.44 529.71 536.97" y="904.1">KDRHSKVYTAKGPRDRRVRLSAHTAIQFYDVQDRLGYDRPSKAVDWLIKKAKSAIDKLDQL</text>
<text x="101.13 108.4 115.66 122.92 130.19 137.45 144.72 151.98 159.24 166.51 173.77 181.04 188.3 195.56 202.83 210.09 217.36 224.62 231.88 239.15 246.41 253.68 260.94 268.2 275.47 282.73 290 297.26 304.52 311.79 319.05 326.32 333.58 340.84 348.11 355.37 362.64 369.9 377.16 384.43 391.69 398.96 406.22 413.48 420.75 428.01 435.28 442.54 449.8 457.07 464.33 471.6 478.86 486.12 493.39 500.65 507.92 515.18 522.44 529.71 536.97" y="916.13">KDRHSKVCTAKGPRDRRVRLSAHTAIEFYDVQDRLGFDRPSKALDWLINKAKPAIDQLAHL</text>
<text x="101.13 108.4 115.66 122.92 130.19 137.45 144.72 151.98 159.24 166.51 173.77 181.04 188.3 195.56 202.83 210.09 217.36 224.62 231.88 239.15 246.41 253.68 260.94 268.2 275.47 282.73 290 297.26 304.52 311.79 319.05 326.32 333.58 340.84 348.11 355.37 362.64 369.9 377.16 384.43 391.69 398.96 406.22 413.48 420.75 428.01 435.28 442.54 449.8 457.07 464.33 471.6 478.86 486.12 493.39 500.65 507.92 515.18 522.44 529.71 536.97" y="928.16">KDRHSKVYTSKGPRDRRVRLSAHTAIEFYDVQDRLGYDRPSKAMDWLIKKAKSSIDKLAEL</text>
<text x="101.13 108.4 115.66 122.92 130.19 137.45 144.72 151.98 159.24 166.51 173.77 181.04 188.3 195.56 202.83 210.09 217.36 224.62 231.88 239.15 246.41 253.68 260.94 268.2 275.47 282.73 290 297.26 304.52 311.79 319.05 326.32 333.58 340.84 348.11 355.37 362.64 369.9 377.16 384.43 391.69 398.96 406.22 413.48 420.75 428.01 435.28 442.54 449.8 457.07 464.33 471.6 478.86 486.12 493.39 500.65 507.92 515.18 522.44 529.71 536.97" y="940.19">KDRHSKVCTAKGPRDRRVRLSAHTAIQFYDVQDRLGYDRPSKAVDWLIKKAKSAIDELAHL</text>
<text x="101.13 108.4 115.66 122.92 130.19 137.45 144.72 151.98 159.24 166.51 173.77 181.04 188.3 195.56 202.83 210.09 217.36 224.62 231.88 239.15 246.41 253.68 260.94 268.2 275.47 282.73 290 297.26 304.52 311.79 319.05 326.32 333.58 340.84 348.11 355.37 362.64 369.9 377.16 384.43 391.69 398.96 406.22 413.48 420.75 428.01 435.28 442.54 449.8 457.07 464.33 471.6 478.86 486.12 493.39 500.65 507.92 515.18 522.44 529.71 536.97" y="952.23">KDRHSKVMTSKGLRDRRVRLSVTTAIQFYDLQDRLGYDQPSKAVEWLIKSASDAISELPSL</text>
<text x="101.13 108.4 115.66 122.92 130.19 137.45 144.72 151.98 159.24 166.51 173.77 181.04 188.3 195.56 202.83 210.09 217.36 224.62 231.88 239.15 246.41 253.68 260.94 268.2 275.47 282.73 290 297.26 304.52 311.79 319.05 326.32 333.58 340.84 348.11 355.37 362.64 369.9 377.16 384.43 391.69 398.96 406.22 413.48 420.75 428.01 435.28 442.54 449.8 457.07 464.33 471.6 478.86 486.12 493.39 500.65 507.92 515.18 522.44 529.71 536.97" y="964.26">KDRHSKVCTIRGLRDRRIRLSVPTAIQLYDLQDRLGLNQPSKVVDWLLNAAKHDIDQLPPL</text>
<text x="101.13 108.4 115.66 122.92 130.19 137.45 144.72 151.98 159.24 166.51 173.77 181.04 188.3 195.56 202.83 210.09 217.36 224.62 231.88 239.15 246.41 253.68 260.94 268.2 275.47 282.73 290 297.26 304.52 311.79 319.05 326.32 333.58 340.84 348.11 355.37 362.64 369.9 377.16 384.43 391.69 398.96 406.22 413.48 420.75 428.01 435.28 442.54 449.8 457.07 464.33 471.6 478.86 486.12 493.39 500.65 507.92 515.18 522.44 529.71 536.97" y="976.29">KDRHSKVCTIRGLRDRRIRLSVPTAIQLYDLQDRLGLSQPSKVVEWLIEATQSDIDKLPPL</text>
<text x="101.13 108.4 115.66 122.92 130.19 137.45 144.72 151.98 159.24 166.51 173.77 181.04 188.3 195.56 202.83 210.09 217.36 224.62 231.88 239.15 246.41 253.68 260.94 268.2 275.47 282.73 290 297.26 304.52 311.79 319.05 326.32 333.58 340.84 348.11 355.37 362.64 369.9 377.16 384.43 391.69 398.96 406.22 413.48 420.75 428.01 435.28 442.54 449.8 457.07 464.33 471.6 478.86 486.12 493.39 500.65 507.92 515.18 522.44 529.71 536.97" y="988.33">KDRHSKVCTIRGLRDRRIRLSVPTAIQLYDLQDKLGLGQPSKVIDWLLEATKLDIDKLPPL</text>
<text transform="translate(0 726.65) scale(1 1.25)" x="563.45 570.14 576.83 583.53 590.22 596.91 603.6 610.3 616.99 623.68 630.38 637.07 643.76 650.46 657.15" y="0" font-size="7.4">KESRERARARARERT</text>
<text transform="translate(0 739.1) scale(1 1.25)" x="563.45 570.14 576.83 583.53 590.22 596.91 603.6 610.3 616.99 623.68 630.38 637.07 643.76 650.46 657.15" y="0" font-size="7.4">KESREKARARARERT</text>
<text transform="translate(0 751.75) scale(1 1.25)" x="563.45 570.14 576.83 583.53 590.22 596.91 603.6 610.3 616.99 623.68 630.38 637.07 643.76 650.46 657.15" y="0" font-size="7.4">KDSREKTRARARERA</text>
<text transform="translate(0 763.95) scale(1 1.25)" x="563.45 570.14 576.83 583.53 590.22 596.91 603.6 610.3 616.99 623.68 630.38 637.07 643.76 650.46 657.15" y="0" font-size="7.4">SIGREKARERARERT</text>
</g>
<g font-size="10.8" fill="#000" text-anchor="end">
<text x="95.7" y="723.5">MsTCP12</text>
<text x="95.7" y="735.53">MsTCP1</text>
<text x="95.7" y="747.57">MsTCP2</text>
<text x="95.7" y="759.6">MsTCP18</text>
<text x="95.7" y="771.63">MsTCP7</text>
<text x="95.7" y="783.66">MsTCP11</text>
<text x="95.7" y="795.7">MsTCP14</text>
<text x="95.7" y="807.73">MsTCP15</text>
<text x="95.7" y="819.76">MsTCP21</text>
<text x="95.7" y="831.8">MsTCP22</text>
<text x="95.7" y="843.83">MsTCP8</text>
<text x="95.7" y="855.86">MsTCP9</text>
<text x="95.7" y="867.9">MsTCP19</text>
<text x="95.7" y="879.93">MsTCP16</text>
<text x="95.7" y="891.96">MsTCP23</text>
<text x="95.7" y="904">MsTCP10A</text>
<text x="95.7" y="916.03">MsTCP3</text>
<text x="95.7" y="928.06">MsTCP10B</text>
<text x="95.7" y="940.09">MsTCP4</text>
<text x="95.7" y="952.13">MsTCP24</text>
<text x="95.7" y="964.16">MsTCP13</text>
<text x="95.7" y="976.19">MsTCP6</text>
<text x="95.7" y="988.23">MsTCP5</text>
</g>
<g font-size="9" font-weight="bold" fill="#000">
<circle cx="545.7" cy="719.9" r="1.05"/>
<circle cx="550.95" cy="719.9" r="1.05"/>
<circle cx="556.2" cy="719.9" r="1.05"/>
<circle cx="545.7" cy="732.8" r="1.05"/>
<circle cx="550.95" cy="732.8" r="1.05"/>
<circle cx="556.2" cy="732.8" r="1.05"/>
<circle cx="545.7" cy="744.9" r="1.05"/>
<circle cx="550.95" cy="744.9" r="1.05"/>
<circle cx="556.2" cy="744.9" r="1.05"/>
<circle cx="545.7" cy="761.6" r="1.05"/>
<circle cx="550.95" cy="761.6" r="1.05"/>
<circle cx="556.2" cy="761.6" r="1.05"/>
</g>
<rect x="95.3" y="690.05" width="454.2" height="1.5" fill="#000"/>
<rect x="95.3" y="708.55" width="148.4" height="1.5" fill="#000"/>
<rect x="279.8" y="708.55" width="77.2" height="1.5" fill="#000"/>
<rect x="359.3" y="708.55" width="48.5" height="1.5" fill="#000"/>
<rect x="415.8" y="708.15" width="126.7" height="1.5" fill="#000"/>
<rect x="556.6" y="708.05" width="105.4" height="1.5" fill="#000"/>
<g font-size="14" fill="#000" text-anchor="middle">
<text x="326.7" y="685.4">TCP domain</text>
<text x="165.5" y="704.3">Basic</text>
<text x="319.9" y="704.3">Helix I</text>
<text x="382.3" y="704.3">Loop</text>
<text x="473.8" y="704.3">Helix II</text>
<text x="609.5" y="704.3">R domain</text>
</g>
<rect x="37.6" y="713.2" width="1.2" height="48.6" fill="#000"/>
<rect x="37.6" y="765.3" width="1.2" height="139.7" fill="#000"/>
<rect x="37.6" y="908" width="1.2" height="81.7" fill="#000"/>
<g font-size="13.6" fill="#000" text-anchor="middle">
<text transform="translate(32.5 738) rotate(-90)">CYC/TB1</text>
<text transform="translate(32.5 832) rotate(-90)">PCF</text>
<text transform="translate(32.5 946.5) rotate(-90)">CIN</text>
</g>
<text x="-0.7" y="674.3" font-size="28">b</text>
</svg></body></html>
